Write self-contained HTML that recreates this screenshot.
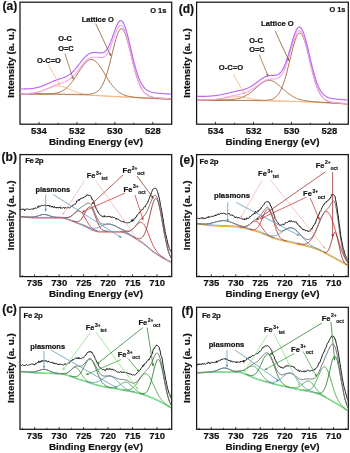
<!DOCTYPE html>
<html><head><meta charset="utf-8"><style>
html,body{margin:0;padding:0;background:#fff;}
body{width:350px;height:453px;overflow:hidden;}
svg{display:block;font-family:"Liberation Sans", sans-serif;font-weight:bold;-webkit-font-smoothing:antialiased;filter:blur(0.42px);}
</style></head><body>
<svg width="350" height="453" viewBox="0 0 350 453">
<rect width="350" height="453" fill="#fff"/>
<rect x="20.00" y="2.20" width="151.70" height="122.00" fill="none" stroke="#151515" stroke-width="1.25"/>
<line x1="38.96" y1="124.20" x2="38.96" y2="121.90" stroke="#222" stroke-width="0.9" stroke-opacity="1.0"/>
<line x1="76.89" y1="124.20" x2="76.89" y2="121.90" stroke="#222" stroke-width="0.9" stroke-opacity="1.0"/>
<line x1="114.81" y1="124.20" x2="114.81" y2="121.90" stroke="#222" stroke-width="0.9" stroke-opacity="1.0"/>
<line x1="152.74" y1="124.20" x2="152.74" y2="121.90" stroke="#222" stroke-width="0.9" stroke-opacity="1.0"/>
<line x1="57.92" y1="124.20" x2="57.92" y2="122.70" stroke="#222" stroke-width="0.8" stroke-opacity="1.0"/>
<line x1="95.85" y1="124.20" x2="95.85" y2="122.70" stroke="#222" stroke-width="0.8" stroke-opacity="1.0"/>
<line x1="133.77" y1="124.20" x2="133.77" y2="122.70" stroke="#222" stroke-width="0.8" stroke-opacity="1.0"/>
<text x="31.03" y="133.65" font-size="9.5" fill="#111" stroke="#111" stroke-width="0.2">534</text>
<text x="69.11" y="133.65" font-size="9.5" fill="#111" stroke="#111" stroke-width="0.2">532</text>
<text x="107.04" y="133.65" font-size="9.5" fill="#111" stroke="#111" stroke-width="0.2">530</text>
<text x="144.91" y="133.65" font-size="9.5" fill="#111" stroke="#111" stroke-width="0.2">528</text>
<text x="48.90" y="144.70" font-size="9.85" fill="#111" stroke="#111" stroke-width="0.2">Binding Energy (eV)</text>
<text x="0" y="0" font-size="9.9" text-anchor="middle" fill="#111" stroke="#111" stroke-width="0.2" transform="translate(13.60,63.00) rotate(-90)">Intensity (a. u.)</text>
<clipPath id="c00"><rect x="20.60" y="2.80" width="150.50" height="120.80"/></clipPath>
<g clip-path="url(#c00)">
<polyline points="20.0,93.9 20.8,93.9 21.7,93.9 22.5,93.9 23.4,93.9 24.2,93.9 25.1,93.9 25.9,93.9 26.8,93.9 27.6,93.9 28.5,94.0 29.3,94.0 30.2,94.0 31.0,94.0 31.9,94.0 32.7,94.0 33.6,94.0 34.4,94.0 35.3,94.0 36.1,94.0 36.9,94.0 37.8,94.1 38.6,94.1 39.5,94.1 40.3,94.1 41.2,94.1 42.0,94.1 42.9,94.1 43.7,94.1 44.6,94.1 45.4,94.2 46.3,94.2 47.1,94.2 48.0,94.2 48.8,94.2 49.7,94.2 50.5,94.2 51.4,94.3 52.2,94.3 53.1,94.3 53.9,94.3 54.7,94.3 55.6,94.3 56.4,94.3 57.3,94.4 58.1,94.4 59.0,94.4 59.8,94.4 60.7,94.4 61.5,94.5 62.4,94.5 63.2,94.5 64.1,94.5 64.9,94.5 65.8,94.6 66.6,94.6 67.5,94.6 68.3,94.6 69.2,94.6 70.0,94.7 70.8,94.7 71.7,94.7 72.5,94.7 73.4,94.8 74.2,94.8 75.1,94.8 75.9,94.8 76.8,94.9 77.6,94.9 78.5,94.9 79.3,94.9 80.2,95.0 81.0,95.0 81.9,95.0 82.7,95.1 83.6,95.1 84.4,95.1 85.3,95.1 86.1,95.2 87.0,95.2 87.8,95.2 88.6,95.3 89.5,95.3 90.3,95.3 91.2,95.4 92.0,95.4 92.9,95.4 93.7,95.5 94.6,95.5 95.4,95.5 96.3,95.6 97.1,95.6 98.0,95.7 98.8,95.7 99.7,95.7 100.5,95.8 101.4,95.8 102.2,95.8 103.1,95.9 103.9,95.9 104.7,96.0 105.6,96.0 106.4,96.1 107.3,96.1 108.1,96.1 109.0,96.2 109.8,96.2 110.7,96.3 111.5,96.3 112.4,96.3 113.2,96.4 114.1,96.4 114.9,96.5 115.8,96.5 116.6,96.6 117.5,96.6 118.3,96.7 119.2,96.7 120.0,96.7 120.9,96.8 121.7,96.8 122.5,96.9 123.4,96.9 124.2,97.0 125.1,97.0 125.9,97.1 126.8,97.1 127.6,97.2 128.5,97.2 129.3,97.2 130.2,97.3 131.0,97.3 131.9,97.4 132.7,97.4 133.6,97.5 134.4,97.5 135.3,97.6 136.1,97.6 137.0,97.7 137.8,97.7 138.6,97.7 139.5,97.8 140.3,97.8 141.2,97.9 142.0,97.9 142.9,98.0 143.7,98.0 144.6,98.1 145.4,98.1 146.3,98.1 147.1,98.2 148.0,98.2 148.8,98.3 149.7,98.3 150.5,98.3 151.4,98.4 152.2,98.4 153.1,98.5 153.9,98.5 154.8,98.5 155.6,98.6 156.4,98.6 157.3,98.7 158.1,98.7 159.0,98.7 159.8,98.8 160.7,98.8 161.5,98.8 162.4,98.9 163.2,98.9 164.1,98.9 164.9,99.0 165.8,99.0 166.6,99.1 167.5,99.1 168.3,99.1 169.2,99.1 170.0,99.2 170.9,99.2 171.7,99.2" fill="none" stroke="#f5b47a" stroke-width="0.9" stroke-opacity="1.0" stroke-linejoin="round"/>
<polyline points="20.0,93.8 20.8,93.8 21.7,93.8 22.5,93.8 23.4,93.8 24.2,93.8 25.1,93.8 25.9,93.8 26.8,93.7 27.6,93.7 28.5,93.6 29.3,93.6 30.2,93.5 31.0,93.4 31.9,93.4 32.7,93.3 33.6,93.1 34.4,93.0 35.3,92.9 36.1,92.7 36.9,92.5 37.8,92.3 38.6,92.1 39.5,91.9 40.3,91.6 41.2,91.3 42.0,91.1 42.9,90.7 43.7,90.4 44.6,90.1 45.4,89.8 46.3,89.4 47.1,89.1 48.0,88.7 48.8,88.4 49.7,88.1 50.5,87.8 51.4,87.5 52.2,87.2 53.1,86.9 53.9,86.7 54.7,86.5 55.6,86.4 56.4,86.2 57.3,86.2 58.1,86.1 59.0,86.1 59.8,86.2 60.7,86.3 61.5,86.4 62.4,86.6 63.2,86.8 64.1,87.0 64.9,87.3 65.8,87.6 66.6,87.9 67.5,88.3 68.3,88.6 69.2,89.0 70.0,89.4 70.8,89.7 71.7,90.1 72.5,90.5 73.4,90.9 74.2,91.2 75.1,91.6 75.9,91.9 76.8,92.2 77.6,92.5 78.5,92.8 79.3,93.1 80.2,93.3 81.0,93.5 81.9,93.8 82.7,94.0 83.6,94.1 84.4,94.3 85.3,94.4 86.1,94.6 87.0,94.7 87.8,94.8 88.6,94.9 89.5,95.0 90.3,95.1 91.2,95.2 92.0,95.2 92.9,95.3 93.7,95.4 94.6,95.4 95.4,95.5 96.3,95.5 97.1,95.6 98.0,95.6 98.8,95.7 99.7,95.7 100.5,95.8 101.4,95.8 102.2,95.8 103.1,95.9 103.9,95.9 104.7,96.0 105.6,96.0 106.4,96.0 107.3,96.1 108.1,96.1 109.0,96.2 109.8,96.2 110.7,96.3 111.5,96.3 112.4,96.3 113.2,96.4 114.1,96.4 114.9,96.5 115.8,96.5 116.6,96.6 117.5,96.6 118.3,96.7 119.2,96.7 120.0,96.7 120.9,96.8 121.7,96.8 122.5,96.9 123.4,96.9 124.2,97.0 125.1,97.0 125.9,97.1 126.8,97.1 127.6,97.2 128.5,97.2 129.3,97.2 130.2,97.3 131.0,97.3 131.9,97.4 132.7,97.4 133.6,97.5 134.4,97.5 135.3,97.6 136.1,97.6 137.0,97.7 137.8,97.7 138.6,97.7 139.5,97.8 140.3,97.8 141.2,97.9 142.0,97.9 142.9,98.0 143.7,98.0 144.6,98.1 145.4,98.1 146.3,98.1 147.1,98.2 148.0,98.2 148.8,98.3 149.7,98.3 150.5,98.3 151.4,98.4 152.2,98.4 153.1,98.5 153.9,98.5 154.8,98.5 155.6,98.6 156.4,98.6 157.3,98.7 158.1,98.7 159.0,98.7 159.8,98.8 160.7,98.8 161.5,98.8 162.4,98.9 163.2,98.9 164.1,98.9 164.9,99.0 165.8,99.0 166.6,99.1 167.5,99.1 168.3,99.1 169.2,99.1 170.0,99.2 170.9,99.2 171.7,99.2" fill="none" stroke="#f5b47a" stroke-width="0.9" stroke-opacity="1.0" stroke-linejoin="round"/>
<polyline points="20.0,93.8 20.8,93.8 21.7,93.8 22.5,93.9 23.4,93.9 24.2,93.9 25.1,93.9 25.9,93.9 26.8,93.9 27.6,93.9 28.5,93.9 29.3,93.9 30.2,93.9 31.0,93.9 31.9,93.9 32.7,93.9 33.6,93.9 34.4,93.9 35.3,93.9 36.1,94.0 36.9,94.0 37.8,94.0 38.6,94.0 39.5,94.0 40.3,94.0 41.2,94.0 42.0,94.0 42.9,94.0 43.7,94.0 44.6,94.0 45.4,94.0 46.3,93.9 47.1,93.9 48.0,93.9 48.8,93.9 49.7,93.8 50.5,93.8 51.4,93.7 52.2,93.6 53.1,93.6 53.9,93.4 54.7,93.3 55.6,93.2 56.4,93.0 57.3,92.8 58.1,92.6 59.0,92.3 59.8,92.0 60.7,91.7 61.5,91.3 62.4,90.9 63.2,90.4 64.1,89.9 64.9,89.3 65.8,88.7 66.6,88.0 67.5,87.2 68.3,86.4 69.2,85.5 70.0,84.6 70.8,83.6 71.7,82.5 72.5,81.4 73.4,80.2 74.2,79.0 75.1,77.7 75.9,76.4 76.8,75.1 77.6,73.8 78.5,72.4 79.3,71.1 80.2,69.8 81.0,68.5 81.9,67.3 82.7,66.1 83.6,64.9 84.4,63.9 85.3,62.9 86.1,62.1 87.0,61.3 87.8,60.7 88.6,60.2 89.5,59.8 90.3,59.6 91.2,59.5 92.0,59.5 92.9,59.7 93.7,60.1 94.6,60.6 95.4,61.2 96.3,61.9 97.1,62.8 98.0,63.8 98.8,64.8 99.7,66.0 100.5,67.2 101.4,68.5 102.2,69.8 103.1,71.2 103.9,72.6 104.7,74.0 105.6,75.4 106.4,76.8 107.3,78.1 108.1,79.5 109.0,80.8 109.8,82.1 110.7,83.3 111.5,84.5 112.4,85.6 113.2,86.6 114.1,87.6 114.9,88.5 115.8,89.4 116.6,90.2 117.5,91.0 118.3,91.6 119.2,92.3 120.0,92.8 120.9,93.4 121.7,93.8 122.5,94.3 123.4,94.7 124.2,95.0 125.1,95.3 125.9,95.6 126.8,95.8 127.6,96.1 128.5,96.3 129.3,96.4 130.2,96.6 131.0,96.7 131.9,96.9 132.7,97.0 133.6,97.1 134.4,97.2 135.3,97.3 136.1,97.4 137.0,97.4 137.8,97.5 138.6,97.6 139.5,97.6 140.3,97.7 141.2,97.8 142.0,97.8 142.9,97.9 143.7,97.9 144.6,98.0 145.4,98.0 146.3,98.1 147.1,98.1 148.0,98.1 148.8,98.2 149.7,98.2 150.5,98.3 151.4,98.3 152.2,98.4 153.1,98.4 153.9,98.4 154.8,98.5 155.6,98.5 156.4,98.6 157.3,98.6 158.1,98.6 159.0,98.7 159.8,98.7 160.7,98.8 161.5,98.8 162.4,98.8 163.2,98.9 164.1,98.9 164.9,98.9 165.8,99.0 166.6,99.0 167.5,99.0 168.3,99.1 169.2,99.1 170.0,99.1 170.9,99.2 171.7,99.2" fill="none" stroke="#a36c40" stroke-width="0.95" stroke-opacity="1.0" stroke-linejoin="round"/>
<polyline points="20.0,93.8 20.8,93.8 21.7,93.8 22.5,93.8 23.4,93.8 24.2,93.8 25.1,93.8 25.9,93.8 26.8,93.8 27.6,93.8 28.5,93.8 29.3,93.8 30.2,93.9 31.0,93.9 31.9,93.9 32.7,93.9 33.6,93.9 34.4,93.9 35.3,93.9 36.1,93.9 36.9,93.9 37.8,93.9 38.6,93.9 39.5,93.9 40.3,93.9 41.2,93.9 42.0,94.0 42.9,94.0 43.7,94.0 44.6,94.0 45.4,94.0 46.3,94.0 47.1,94.0 48.0,94.0 48.8,94.0 49.7,94.0 50.5,94.0 51.4,94.1 52.2,94.1 53.1,94.1 53.9,94.1 54.7,94.1 55.6,94.1 56.4,94.1 57.3,94.1 58.1,94.1 59.0,94.2 59.8,94.2 60.7,94.2 61.5,94.2 62.4,94.2 63.2,94.2 64.1,94.2 64.9,94.2 65.8,94.3 66.6,94.3 67.5,94.3 68.3,94.3 69.2,94.3 70.0,94.3 70.8,94.3 71.7,94.3 72.5,94.3 73.4,94.4 74.2,94.4 75.1,94.4 75.9,94.4 76.8,94.4 77.6,94.4 78.5,94.4 79.3,94.4 80.2,94.4 81.0,94.4 81.9,94.4 82.7,94.4 83.6,94.4 84.4,94.4 85.3,94.4 86.1,94.4 87.0,94.4 87.8,94.3 88.6,94.3 89.5,94.2 90.3,94.1 91.2,94.0 92.0,93.8 92.9,93.6 93.7,93.4 94.6,93.0 95.4,92.7 96.3,92.2 97.1,91.6 98.0,91.0 98.8,90.2 99.7,89.2 100.5,88.2 101.4,86.9 102.2,85.4 103.1,83.8 103.9,81.9 104.7,79.9 105.6,77.6 106.4,75.1 107.3,72.3 108.1,69.4 109.0,66.3 109.8,63.1 110.7,59.7 111.5,56.3 112.4,52.8 113.2,49.3 114.1,46.0 114.9,42.7 115.8,39.6 116.6,36.9 117.5,34.4 118.3,32.3 119.2,30.6 120.0,29.4 120.9,28.8 121.7,28.7 122.5,29.1 123.4,30.0 124.2,31.4 125.1,33.3 125.9,35.7 126.8,38.4 127.6,41.3 128.5,44.6 129.3,48.0 130.2,51.5 131.0,55.0 131.9,58.6 132.7,62.1 133.6,65.5 134.4,68.8 135.3,71.9 136.1,74.8 137.0,77.6 137.8,80.1 138.6,82.4 139.5,84.5 140.3,86.3 141.2,88.0 142.0,89.5 142.9,90.8 143.7,91.9 144.6,92.8 145.4,93.7 146.3,94.4 147.1,95.0 148.0,95.5 148.8,95.9 149.7,96.3 150.5,96.6 151.4,96.9 152.2,97.1 153.1,97.3 153.9,97.4 154.8,97.6 155.6,97.7 156.4,97.8 157.3,97.9 158.1,98.0 159.0,98.1 159.8,98.1 160.7,98.2 161.5,98.3 162.4,98.3 163.2,98.4 164.1,98.4 164.9,98.5 165.8,98.5 166.6,98.6 167.5,98.6 168.3,98.7 169.2,98.7 170.0,98.8 170.9,98.8 171.7,98.9" fill="none" stroke="#a36c40" stroke-width="0.95" stroke-opacity="1.0" stroke-linejoin="round"/>
<polyline points="20.0,93.7 20.8,93.7 21.7,93.7 22.5,93.7 23.4,93.7 24.2,93.6 25.1,93.6 25.9,93.6 26.8,93.6 27.6,93.5 28.5,93.5 29.3,93.4 30.2,93.3 31.0,93.3 31.9,93.2 32.7,93.1 33.6,92.9 34.4,92.8 35.3,92.7 36.1,92.5 36.9,92.3 37.8,92.1 38.6,91.9 39.5,91.6 40.3,91.4 41.2,91.1 42.0,90.8 42.9,90.4 43.7,90.1 44.6,89.8 45.4,89.4 46.3,89.0 47.1,88.6 48.0,88.3 48.8,87.9 49.7,87.5 50.5,87.1 51.4,86.7 52.2,86.4 53.1,86.0 53.9,85.7 54.7,85.3 55.6,85.0 56.4,84.7 57.3,84.4 58.1,84.1 59.0,83.8 59.8,83.6 60.7,83.3 61.5,83.0 62.4,82.7 63.2,82.4 64.1,82.1 64.9,81.8 65.8,81.4 66.6,81.0 67.5,80.6 68.3,80.1 69.2,79.5 70.0,78.9 70.8,78.2 71.7,77.5 72.5,76.7 73.4,75.9 74.2,75.0 75.1,74.1 75.9,73.1 76.8,72.0 77.6,70.9 78.5,69.8 79.3,68.7 80.2,67.6 81.0,66.5 81.9,65.4 82.7,64.3 83.6,63.3 84.4,62.4 85.3,61.5 86.1,60.7 87.0,59.9 87.8,59.3 88.6,58.7 89.5,58.3 90.3,57.9 91.2,57.6 92.0,57.4 92.9,57.3 93.7,57.2 94.6,57.2 95.4,57.2 96.3,57.2 97.1,57.3 98.0,57.3 98.8,57.4 99.7,57.5 100.5,57.5 101.4,57.6 102.2,57.5 103.1,57.4 103.9,57.0 104.7,56.6 105.6,55.9 106.4,54.9 107.3,53.7 108.1,52.3 109.0,50.6 109.8,48.7 110.7,46.6 111.5,44.3 112.4,42.0 113.2,39.5 114.1,37.1 114.9,34.8 115.8,32.5 116.6,30.5 117.5,28.7 118.3,27.3 119.2,26.2 120.0,25.5 120.9,25.4 121.7,25.7 122.5,26.4 123.4,27.7 124.2,29.5 125.1,31.6 125.9,34.2 126.8,37.1 127.6,40.2 128.5,43.6 129.3,47.2 130.2,50.8 131.0,54.4 131.9,58.1 132.7,61.7 133.6,65.1 134.4,68.5 135.3,71.6 136.1,74.6 137.0,77.4 137.8,79.9 138.6,82.2 139.5,84.3 140.3,86.2 141.2,87.9 142.0,89.4 142.9,90.7 143.7,91.8 144.6,92.8 145.4,93.6 146.3,94.3 147.1,94.9 148.0,95.4 148.8,95.9 149.7,96.2 150.5,96.5 151.4,96.8 152.2,97.0 153.1,97.2 153.9,97.4 154.8,97.5 155.6,97.6 156.4,97.7 157.3,97.8 158.1,97.9 159.0,98.0 159.8,98.1 160.7,98.2 161.5,98.2 162.4,98.3 163.2,98.3 164.1,98.4 164.9,98.4 165.8,98.5 166.6,98.6 167.5,98.6 168.3,98.7 169.2,98.7 170.0,98.7 170.9,98.8 171.7,98.8" fill="none" stroke="#f6a2f2" stroke-width="1.1" stroke-opacity="1.0" stroke-linejoin="round"/>
<polyline points="20.0,89.0 20.8,89.0 21.7,89.0 22.5,89.0 23.4,89.0 24.2,88.9 25.1,88.9 25.9,88.9 26.8,88.8 27.6,88.8 28.5,88.8 29.3,88.7 30.2,88.6 31.0,88.5 31.9,88.5 32.7,88.4 33.6,88.2 34.4,88.1 35.3,87.9 36.1,87.8 36.9,87.6 37.8,87.4 38.6,87.2 39.5,86.9 40.3,86.6 41.2,86.4 42.0,86.1 42.9,85.7 43.7,85.4 44.6,85.1 45.4,84.7 46.3,84.3 47.1,83.9 48.0,83.6 48.8,83.2 49.7,82.8 50.5,82.4 51.4,82.0 52.2,81.7 53.1,81.3 53.9,80.9 54.7,80.6 55.6,80.3 56.4,80.0 57.3,79.7 58.1,79.4 59.0,79.1 59.8,78.8 60.7,78.6 61.5,78.3 62.4,78.0 63.2,77.7 64.1,77.4 64.9,77.1 65.8,76.7 66.6,76.3 67.5,75.8 68.3,75.4 69.2,74.8 70.0,74.2 70.8,73.5 71.7,72.8 72.5,72.0 73.4,71.2 74.2,70.3 75.1,69.3 75.9,68.3 76.8,67.3 77.6,66.2 78.5,65.1 79.3,64.0 80.2,62.9 81.0,61.8 81.9,60.7 82.7,59.6 83.6,58.6 84.4,57.7 85.3,56.8 86.1,56.0 87.0,55.2 87.8,54.6 88.6,54.0 89.5,53.6 90.3,53.2 91.2,52.9 92.0,52.7 92.9,52.6 93.7,52.5 94.6,52.5 95.4,52.5 96.3,52.5 97.1,52.6 98.0,52.6 98.8,52.7 99.7,52.8 100.5,52.8 101.4,52.9 102.2,52.8 103.1,52.6 103.9,52.3 104.7,51.8 105.6,51.2 106.4,50.2 107.3,49.0 108.1,47.6 109.0,45.9 109.8,44.0 110.7,41.9 111.5,39.6 112.4,37.3 113.2,34.8 114.1,32.4 114.9,30.1 115.8,27.8 116.6,25.8 117.5,24.0 118.3,22.6 119.2,21.5 120.0,20.8 120.9,20.6 121.7,20.9 122.5,21.7 123.4,23.0 124.2,24.8 125.1,26.9 125.9,29.5 126.8,32.4 127.6,35.5 128.5,38.9 129.3,42.4 130.2,46.1 131.0,49.7 131.9,53.4 132.7,56.9 133.6,60.4 134.4,63.8 135.3,66.9 136.1,69.9 137.0,72.6 137.8,75.2 138.6,77.5 139.5,79.6 140.3,81.5 141.2,83.2 142.0,84.7 142.9,85.9 143.7,87.1 144.6,88.0 145.4,88.9 146.3,89.6 147.1,90.2 148.0,90.7 148.8,91.1 149.7,91.5 150.5,91.8 151.4,92.1 152.2,92.3 153.1,92.5 153.9,92.7 154.8,92.8 155.6,92.9 156.4,93.0 157.3,93.1 158.1,93.2 159.0,93.3 159.8,93.4 160.7,93.4 161.5,93.5 162.4,93.6 163.2,93.6 164.1,93.7 164.9,93.7 165.8,93.8 166.6,93.8 167.5,93.9 168.3,93.9 169.2,94.0 170.0,94.0 170.9,94.1 171.7,94.1" fill="none" stroke="#b868ee" stroke-width="1.15" stroke-opacity="1.0" stroke-linejoin="round"/>
</g>
<line x1="95.70" y1="23.50" x2="109.91" y2="53.86" stroke="#8a5a30" stroke-width="0.8" stroke-opacity="1.0"/>
<polygon points="111.10,56.40 108.61,53.92 110.80,52.90" fill="#8a5a30" fill-opacity="1.0"/>
<line x1="64.90" y1="53.40" x2="72.64" y2="77.34" stroke="#a06a3a" stroke-width="0.8" stroke-opacity="1.0"/>
<polygon points="73.50,80.00 71.33,77.23 73.64,76.49" fill="#a06a3a" fill-opacity="1.0"/>
<line x1="48.30" y1="64.60" x2="58.92" y2="83.36" stroke="#f5b47a" stroke-width="0.8" stroke-opacity="1.0"/>
<polygon points="60.30,85.80 57.62,83.52 59.73,82.33" fill="#f5b47a" fill-opacity="1.0"/>
<text x="2.50" y="10.10" font-size="12.00" fill="#111" stroke="#111" stroke-width="0.2">(a)</text>
<text x="150.20" y="13.30" font-size="7.42" fill="#111" stroke="#111" stroke-width="0.2">O 1s</text>
<text x="81.70" y="21.80" font-size="7.55" fill="#111" stroke="#111" stroke-width="0.2">Lattice O</text>
<text x="58.20" y="41.40" font-size="7.40" fill="#111" stroke="#111" stroke-width="0.2">O-C</text>
<text x="58.20" y="50.95" font-size="7.40" fill="#111" stroke="#111" stroke-width="0.2">O=C</text>
<text x="37.00" y="62.57" font-size="7.48" fill="#111" stroke="#111" stroke-width="0.2">O-C=O</text>
<rect x="196.60" y="2.20" width="151.70" height="122.00" fill="none" stroke="#151515" stroke-width="1.25"/>
<line x1="215.56" y1="124.20" x2="215.56" y2="121.90" stroke="#222" stroke-width="0.9" stroke-opacity="1.0"/>
<line x1="253.49" y1="124.20" x2="253.49" y2="121.90" stroke="#222" stroke-width="0.9" stroke-opacity="1.0"/>
<line x1="291.41" y1="124.20" x2="291.41" y2="121.90" stroke="#222" stroke-width="0.9" stroke-opacity="1.0"/>
<line x1="329.34" y1="124.20" x2="329.34" y2="121.90" stroke="#222" stroke-width="0.9" stroke-opacity="1.0"/>
<line x1="234.52" y1="124.20" x2="234.52" y2="122.70" stroke="#222" stroke-width="0.8" stroke-opacity="1.0"/>
<line x1="272.45" y1="124.20" x2="272.45" y2="122.70" stroke="#222" stroke-width="0.8" stroke-opacity="1.0"/>
<line x1="310.38" y1="124.20" x2="310.38" y2="122.70" stroke="#222" stroke-width="0.8" stroke-opacity="1.0"/>
<text x="207.63" y="133.65" font-size="9.5" fill="#111" stroke="#111" stroke-width="0.2">534</text>
<text x="245.71" y="133.65" font-size="9.5" fill="#111" stroke="#111" stroke-width="0.2">532</text>
<text x="283.64" y="133.65" font-size="9.5" fill="#111" stroke="#111" stroke-width="0.2">530</text>
<text x="321.51" y="133.65" font-size="9.5" fill="#111" stroke="#111" stroke-width="0.2">528</text>
<text x="225.50" y="144.70" font-size="9.85" fill="#111" stroke="#111" stroke-width="0.2">Binding Energy (eV)</text>
<text x="0" y="0" font-size="9.9" text-anchor="middle" fill="#111" stroke="#111" stroke-width="0.2" transform="translate(190.20,63.00) rotate(-90)">Intensity (a. u.)</text>
<clipPath id="c10"><rect x="197.20" y="2.80" width="150.50" height="120.80"/></clipPath>
<g clip-path="url(#c10)">
<polyline points="196.6,100.3 197.4,100.3 198.3,100.3 199.1,100.3 200.0,100.3 200.8,100.3 201.7,100.3 202.5,100.4 203.4,100.4 204.2,100.4 205.1,100.4 205.9,100.4 206.8,100.4 207.6,100.4 208.5,100.4 209.3,100.4 210.2,100.4 211.0,100.4 211.9,100.4 212.7,100.4 213.5,100.4 214.4,100.4 215.2,100.4 216.1,100.4 216.9,100.4 217.8,100.4 218.6,100.4 219.5,100.4 220.3,100.4 221.2,100.4 222.0,100.4 222.9,100.4 223.7,100.4 224.6,100.4 225.4,100.4 226.3,100.4 227.1,100.4 228.0,100.4 228.8,100.4 229.7,100.5 230.5,100.5 231.3,100.5 232.2,100.5 233.0,100.5 233.9,100.5 234.7,100.5 235.6,100.5 236.4,100.5 237.3,100.5 238.1,100.5 239.0,100.5 239.8,100.5 240.7,100.5 241.5,100.5 242.4,100.5 243.2,100.5 244.1,100.5 244.9,100.6 245.8,100.6 246.6,100.6 247.4,100.6 248.3,100.6 249.1,100.6 250.0,100.6 250.8,100.6 251.7,100.6 252.5,100.6 253.4,100.6 254.2,100.6 255.1,100.7 255.9,100.7 256.8,100.7 257.6,100.7 258.5,100.7 259.3,100.7 260.2,100.7 261.0,100.7 261.9,100.7 262.7,100.8 263.6,100.8 264.4,100.8 265.2,100.8 266.1,100.8 266.9,100.8 267.8,100.8 268.6,100.8 269.5,100.9 270.3,100.9 271.2,100.9 272.0,100.9 272.9,100.9 273.7,100.9 274.6,101.0 275.4,101.0 276.3,101.0 277.1,101.0 278.0,101.0 278.8,101.0 279.7,101.1 280.5,101.1 281.3,101.1 282.2,101.1 283.0,101.1 283.9,101.2 284.7,101.2 285.6,101.2 286.4,101.2 287.3,101.2 288.1,101.3 289.0,101.3 289.8,101.3 290.7,101.3 291.5,101.4 292.4,101.4 293.2,101.4 294.1,101.4 294.9,101.5 295.8,101.5 296.6,101.5 297.5,101.6 298.3,101.6 299.1,101.6 300.0,101.6 300.8,101.7 301.7,101.7 302.5,101.7 303.4,101.8 304.2,101.8 305.1,101.8 305.9,101.9 306.8,101.9 307.6,101.9 308.5,102.0 309.3,102.0 310.2,102.0 311.0,102.1 311.9,102.1 312.7,102.2 313.6,102.2 314.4,102.2 315.2,102.3 316.1,102.3 316.9,102.4 317.8,102.4 318.6,102.4 319.5,102.5 320.3,102.5 321.2,102.6 322.0,102.6 322.9,102.6 323.7,102.7 324.6,102.7 325.4,102.8 326.3,102.8 327.1,102.9 328.0,102.9 328.8,103.0 329.7,103.0 330.5,103.1 331.4,103.1 332.2,103.2 333.0,103.2 333.9,103.2 334.7,103.3 335.6,103.3 336.4,103.4 337.3,103.4 338.1,103.5 339.0,103.5 339.8,103.6 340.7,103.6 341.5,103.7 342.4,103.7 343.2,103.8 344.1,103.8 344.9,103.9 345.8,103.9 346.6,104.0 347.5,104.0 348.3,104.1" fill="none" stroke="#f5b47a" stroke-width="0.9" stroke-opacity="1.0" stroke-linejoin="round"/>
<polyline points="196.6,100.3 197.4,100.3 198.3,100.3 199.1,100.3 200.0,100.3 200.8,100.3 201.7,100.3 202.5,100.3 203.4,100.3 204.2,100.3 205.1,100.3 205.9,100.2 206.8,100.2 207.6,100.2 208.5,100.2 209.3,100.1 210.2,100.1 211.0,100.0 211.9,100.0 212.7,99.9 213.5,99.8 214.4,99.8 215.2,99.7 216.1,99.6 216.9,99.5 217.8,99.4 218.6,99.3 219.5,99.1 220.3,99.0 221.2,98.8 222.0,98.7 222.9,98.5 223.7,98.4 224.6,98.2 225.4,98.1 226.3,97.9 227.1,97.8 228.0,97.6 228.8,97.5 229.7,97.3 230.5,97.2 231.3,97.1 232.2,97.0 233.0,96.9 233.9,96.8 234.7,96.7 235.6,96.7 236.4,96.7 237.3,96.7 238.1,96.7 239.0,96.7 239.8,96.8 240.7,96.9 241.5,96.9 242.4,97.1 243.2,97.2 244.1,97.3 244.9,97.5 245.8,97.6 246.6,97.8 247.4,97.9 248.3,98.1 249.1,98.3 250.0,98.4 250.8,98.6 251.7,98.8 252.5,99.0 253.4,99.1 254.2,99.3 255.1,99.4 255.9,99.5 256.8,99.7 257.6,99.8 258.5,99.9 259.3,100.0 260.2,100.1 261.0,100.2 261.9,100.3 262.7,100.4 263.6,100.4 264.4,100.5 265.2,100.5 266.1,100.6 266.9,100.6 267.8,100.7 268.6,100.7 269.5,100.8 270.3,100.8 271.2,100.8 272.0,100.9 272.9,100.9 273.7,100.9 274.6,100.9 275.4,100.9 276.3,101.0 277.1,101.0 278.0,101.0 278.8,101.0 279.7,101.1 280.5,101.1 281.3,101.1 282.2,101.1 283.0,101.1 283.9,101.2 284.7,101.2 285.6,101.2 286.4,101.2 287.3,101.2 288.1,101.3 289.0,101.3 289.8,101.3 290.7,101.3 291.5,101.4 292.4,101.4 293.2,101.4 294.1,101.4 294.9,101.5 295.8,101.5 296.6,101.5 297.5,101.6 298.3,101.6 299.1,101.6 300.0,101.6 300.8,101.7 301.7,101.7 302.5,101.7 303.4,101.8 304.2,101.8 305.1,101.8 305.9,101.9 306.8,101.9 307.6,101.9 308.5,102.0 309.3,102.0 310.2,102.0 311.0,102.1 311.9,102.1 312.7,102.2 313.6,102.2 314.4,102.2 315.2,102.3 316.1,102.3 316.9,102.4 317.8,102.4 318.6,102.4 319.5,102.5 320.3,102.5 321.2,102.6 322.0,102.6 322.9,102.6 323.7,102.7 324.6,102.7 325.4,102.8 326.3,102.8 327.1,102.9 328.0,102.9 328.8,103.0 329.7,103.0 330.5,103.1 331.4,103.1 332.2,103.2 333.0,103.2 333.9,103.2 334.7,103.3 335.6,103.3 336.4,103.4 337.3,103.4 338.1,103.5 339.0,103.5 339.8,103.6 340.7,103.6 341.5,103.7 342.4,103.7 343.2,103.8 344.1,103.8 344.9,103.9 345.8,103.9 346.6,104.0 347.5,104.0 348.3,104.1" fill="none" stroke="#f5b47a" stroke-width="0.9" stroke-opacity="1.0" stroke-linejoin="round"/>
<polyline points="196.6,100.2 197.4,100.1 198.3,100.1 199.1,100.1 200.0,100.1 200.8,100.1 201.7,100.1 202.5,100.1 203.4,100.1 204.2,100.1 205.1,100.1 205.9,100.1 206.8,100.1 207.6,100.1 208.5,100.1 209.3,100.1 210.2,100.1 211.0,100.1 211.9,100.1 212.7,100.1 213.5,100.1 214.4,100.1 215.2,100.1 216.1,100.0 216.9,100.0 217.8,100.0 218.6,100.0 219.5,100.0 220.3,100.0 221.2,100.0 222.0,100.0 222.9,99.9 223.7,99.9 224.6,99.9 225.4,99.9 226.3,99.8 227.1,99.8 228.0,99.8 228.8,99.7 229.7,99.6 230.5,99.6 231.3,99.5 232.2,99.4 233.0,99.3 233.9,99.2 234.7,99.1 235.6,99.0 236.4,98.8 237.3,98.7 238.1,98.5 239.0,98.3 239.8,98.0 240.7,97.8 241.5,97.5 242.4,97.2 243.2,96.8 244.1,96.4 244.9,96.0 245.8,95.6 246.6,95.1 247.4,94.6 248.3,94.1 249.1,93.5 250.0,92.9 250.8,92.3 251.7,91.7 252.5,91.0 253.4,90.3 254.2,89.6 255.1,88.8 255.9,88.1 256.8,87.4 257.6,86.6 258.5,85.9 259.3,85.2 260.2,84.5 261.0,83.8 261.9,83.2 262.7,82.6 263.6,82.1 264.4,81.6 265.2,81.2 266.1,80.9 266.9,80.6 267.8,80.4 268.6,80.3 269.5,80.3 270.3,80.4 271.2,80.6 272.0,80.8 272.9,81.1 273.7,81.5 274.6,82.0 275.4,82.6 276.3,83.1 277.1,83.8 278.0,84.5 278.8,85.2 279.7,85.9 280.5,86.7 281.3,87.4 282.2,88.2 283.0,89.0 283.9,89.7 284.7,90.5 285.6,91.2 286.4,91.9 287.3,92.6 288.1,93.3 289.0,93.9 289.8,94.5 290.7,95.1 291.5,95.7 292.4,96.2 293.2,96.7 294.1,97.1 294.9,97.6 295.8,98.0 296.6,98.3 297.5,98.7 298.3,99.0 299.1,99.2 300.0,99.5 300.8,99.7 301.7,100.0 302.5,100.2 303.4,100.3 304.2,100.5 305.1,100.7 305.9,100.8 306.8,100.9 307.6,101.0 308.5,101.1 309.3,101.2 310.2,101.3 311.0,101.4 311.9,101.5 312.7,101.6 313.6,101.6 314.4,101.7 315.2,101.8 316.1,101.8 316.9,101.9 317.8,102.0 318.6,102.0 319.5,102.1 320.3,102.1 321.2,102.2 322.0,102.3 322.9,102.3 323.7,102.4 324.6,102.4 325.4,102.5 326.3,102.5 327.1,102.6 328.0,102.6 328.8,102.7 329.7,102.7 330.5,102.8 331.4,102.9 332.2,102.9 333.0,103.0 333.9,103.0 334.7,103.1 335.6,103.1 336.4,103.2 337.3,103.2 338.1,103.3 339.0,103.3 339.8,103.4 340.7,103.4 341.5,103.5 342.4,103.6 343.2,103.6 344.1,103.7 344.9,103.7 345.8,103.8 346.6,103.8 347.5,103.9 348.3,103.9" fill="none" stroke="#a36c40" stroke-width="0.95" stroke-opacity="1.0" stroke-linejoin="round"/>
<polyline points="196.6,100.3 197.4,100.3 198.3,100.3 199.1,100.3 200.0,100.3 200.8,100.3 201.7,100.3 202.5,100.3 203.4,100.3 204.2,100.3 205.1,100.3 205.9,100.3 206.8,100.3 207.6,100.3 208.5,100.3 209.3,100.3 210.2,100.3 211.0,100.3 211.9,100.3 212.7,100.3 213.5,100.3 214.4,100.3 215.2,100.3 216.1,100.3 216.9,100.3 217.8,100.3 218.6,100.3 219.5,100.3 220.3,100.3 221.2,100.3 222.0,100.3 222.9,100.3 223.7,100.3 224.6,100.3 225.4,100.3 226.3,100.4 227.1,100.4 228.0,100.4 228.8,100.4 229.7,100.4 230.5,100.4 231.3,100.4 232.2,100.4 233.0,100.4 233.9,100.4 234.7,100.4 235.6,100.4 236.4,100.4 237.3,100.4 238.1,100.4 239.0,100.4 239.8,100.4 240.7,100.4 241.5,100.4 242.4,100.4 243.2,100.4 244.1,100.4 244.9,100.4 245.8,100.4 246.6,100.4 247.4,100.4 248.3,100.4 249.1,100.4 250.0,100.4 250.8,100.4 251.7,100.4 252.5,100.4 253.4,100.4 254.2,100.4 255.1,100.4 255.9,100.4 256.8,100.4 257.6,100.4 258.5,100.4 259.3,100.4 260.2,100.4 261.0,100.4 261.9,100.4 262.7,100.4 263.6,100.4 264.4,100.4 265.2,100.3 266.1,100.3 266.9,100.2 267.8,100.1 268.6,100.0 269.5,99.9 270.3,99.7 271.2,99.5 272.0,99.2 272.9,98.9 273.7,98.4 274.6,97.9 275.4,97.3 276.3,96.6 277.1,95.7 278.0,94.7 278.8,93.5 279.7,92.2 280.5,90.6 281.3,88.9 282.2,86.9 283.0,84.7 283.9,82.3 284.7,79.7 285.6,76.8 286.4,73.8 287.3,70.6 288.1,67.2 289.0,63.8 289.8,60.3 290.7,56.8 291.5,53.3 292.4,49.9 293.2,46.6 294.1,43.6 294.9,40.8 295.8,38.4 296.6,36.4 297.5,34.8 298.3,33.7 299.1,33.1 300.0,32.9 300.8,33.4 301.7,34.3 302.5,35.7 303.4,37.6 304.2,39.8 305.1,42.5 305.9,45.4 306.8,48.6 307.6,52.0 308.5,55.5 309.3,59.1 310.2,62.7 311.0,66.2 311.9,69.7 312.7,73.0 313.6,76.2 314.4,79.2 315.2,82.0 316.1,84.6 316.9,87.0 317.8,89.1 318.6,91.1 319.5,92.8 320.3,94.3 321.2,95.6 322.0,96.8 322.9,97.8 323.7,98.7 324.6,99.4 325.4,100.0 326.3,100.5 327.1,101.0 328.0,101.3 328.8,101.7 329.7,101.9 330.5,102.1 331.4,102.3 332.2,102.5 333.0,102.6 333.9,102.7 334.7,102.8 335.6,102.9 336.4,103.0 337.3,103.1 338.1,103.2 339.0,103.3 339.8,103.3 340.7,103.4 341.5,103.4 342.4,103.5 343.2,103.6 344.1,103.6 344.9,103.7 345.8,103.7 346.6,103.8 347.5,103.9 348.3,103.9" fill="none" stroke="#a36c40" stroke-width="0.95" stroke-opacity="1.0" stroke-linejoin="round"/>
<polyline points="196.6,100.1 197.4,100.1 198.3,100.1 199.1,100.1 200.0,100.1 200.8,100.1 201.7,100.0 202.5,100.0 203.4,100.0 204.2,100.0 205.1,100.0 205.9,99.9 206.8,99.9 207.6,99.9 208.5,99.8 209.3,99.8 210.2,99.7 211.0,99.7 211.9,99.6 212.7,99.5 213.5,99.5 214.4,99.4 215.2,99.3 216.1,99.2 216.9,99.1 217.8,98.9 218.6,98.8 219.5,98.7 220.3,98.5 221.2,98.3 222.0,98.2 222.9,98.0 223.7,97.8 224.6,97.6 225.4,97.4 226.3,97.2 227.1,97.0 228.0,96.8 228.8,96.6 229.7,96.4 230.5,96.2 231.3,96.0 232.2,95.8 233.0,95.6 233.9,95.5 234.7,95.3 235.6,95.1 236.4,94.9 237.3,94.7 238.1,94.5 239.0,94.4 239.8,94.2 240.7,94.0 241.5,93.8 242.4,93.6 243.2,93.3 244.1,93.1 244.9,92.8 245.8,92.5 246.6,92.2 247.4,91.8 248.3,91.5 249.1,91.0 250.0,90.6 250.8,90.1 251.7,89.6 252.5,89.1 253.4,88.6 254.2,88.0 255.1,87.4 255.9,86.8 256.8,86.1 257.6,85.5 258.5,84.9 259.3,84.2 260.2,83.6 261.0,83.0 261.9,82.4 262.7,81.9 263.6,81.4 264.4,80.9 265.2,80.5 266.1,80.1 266.9,79.8 267.8,79.6 268.6,79.4 269.5,79.2 270.3,79.1 271.2,79.1 272.0,79.0 272.9,79.0 273.7,79.0 274.6,79.0 275.4,78.9 276.3,78.7 277.1,78.5 278.0,78.1 278.8,77.7 279.7,77.0 280.5,76.2 281.3,75.2 282.2,74.0 283.0,72.5 283.9,70.9 284.7,69.0 285.6,66.8 286.4,64.5 287.3,62.0 288.1,59.3 289.0,56.4 289.8,53.5 290.7,50.5 291.5,47.6 292.4,44.7 293.2,41.9 294.1,39.3 294.9,36.9 295.8,34.9 296.6,33.2 297.5,31.9 298.3,31.1 299.1,30.7 300.0,30.8 300.8,31.4 301.7,32.5 302.5,34.1 303.4,36.1 304.2,38.5 305.1,41.3 305.9,44.3 306.8,47.6 307.6,51.1 308.5,54.7 309.3,58.3 310.2,61.9 311.0,65.5 311.9,69.1 312.7,72.4 313.6,75.7 314.4,78.7 315.2,81.5 316.1,84.1 316.9,86.5 317.8,88.7 318.6,90.7 319.5,92.4 320.3,93.9 321.2,95.3 322.0,96.5 322.9,97.5 323.7,98.3 324.6,99.1 325.4,99.7 326.3,100.2 327.1,100.7 328.0,101.1 328.8,101.4 329.7,101.7 330.5,101.9 331.4,102.1 332.2,102.2 333.0,102.4 333.9,102.5 334.7,102.6 335.6,102.7 336.4,102.8 337.3,102.9 338.1,103.0 339.0,103.0 339.8,103.1 340.7,103.2 341.5,103.3 342.4,103.3 343.2,103.4 344.1,103.4 344.9,103.5 345.8,103.6 346.6,103.6 347.5,103.7 348.3,103.8" fill="none" stroke="#f6a2f2" stroke-width="1.1" stroke-opacity="1.0" stroke-linejoin="round"/>
<polyline points="196.6,96.4 197.4,96.4 198.3,96.4 199.1,96.4 200.0,96.4 200.8,96.4 201.7,96.4 202.5,96.4 203.4,96.3 204.2,96.3 205.1,96.3 205.9,96.3 206.8,96.2 207.6,96.2 208.5,96.2 209.3,96.1 210.2,96.1 211.0,96.0 211.9,95.9 212.7,95.9 213.5,95.8 214.4,95.7 215.2,95.6 216.1,95.5 216.9,95.4 217.8,95.3 218.6,95.1 219.5,95.0 220.3,94.8 221.2,94.7 222.0,94.5 222.9,94.3 223.7,94.1 224.6,94.0 225.4,93.8 226.3,93.6 227.1,93.4 228.0,93.2 228.8,93.0 229.7,92.8 230.5,92.6 231.3,92.4 232.2,92.2 233.0,92.0 233.9,91.8 234.7,91.6 235.6,91.4 236.4,91.2 237.3,91.1 238.1,90.9 239.0,90.7 239.8,90.5 240.7,90.3 241.5,90.1 242.4,89.9 243.2,89.6 244.1,89.4 244.9,89.1 245.8,88.8 246.6,88.5 247.4,88.2 248.3,87.8 249.1,87.4 250.0,86.9 250.8,86.5 251.7,86.0 252.5,85.4 253.4,84.9 254.2,84.3 255.1,83.7 255.9,83.1 256.8,82.5 257.6,81.8 258.5,81.2 259.3,80.6 260.2,79.9 261.0,79.3 261.9,78.7 262.7,78.2 263.6,77.7 264.4,77.2 265.2,76.8 266.1,76.4 266.9,76.1 267.8,75.9 268.6,75.7 269.5,75.6 270.3,75.5 271.2,75.4 272.0,75.4 272.9,75.4 273.7,75.3 274.6,75.3 275.4,75.2 276.3,75.1 277.1,74.8 278.0,74.5 278.8,74.0 279.7,73.4 280.5,72.5 281.3,71.5 282.2,70.3 283.0,68.9 283.9,67.2 284.7,65.3 285.6,63.2 286.4,60.8 287.3,58.3 288.1,55.6 289.0,52.8 289.8,49.8 290.7,46.9 291.5,43.9 292.4,41.0 293.2,38.2 294.1,35.6 294.9,33.3 295.8,31.2 296.6,29.5 297.5,28.2 298.3,27.4 299.1,27.0 300.0,27.1 300.8,27.8 301.7,28.9 302.5,30.4 303.4,32.4 304.2,34.9 305.1,37.6 305.9,40.7 306.8,44.0 307.6,47.4 308.5,51.0 309.3,54.6 310.2,58.3 311.0,61.9 311.9,65.4 312.7,68.8 313.6,72.0 314.4,75.0 315.2,77.9 316.1,80.5 316.9,82.9 317.8,85.0 318.6,87.0 319.5,88.7 320.3,90.3 321.2,91.6 322.0,92.8 322.9,93.8 323.7,94.7 324.6,95.4 325.4,96.0 326.3,96.6 327.1,97.0 328.0,97.4 328.8,97.7 329.7,98.0 330.5,98.2 331.4,98.4 332.2,98.6 333.0,98.7 333.9,98.8 334.7,98.9 335.6,99.0 336.4,99.1 337.3,99.2 338.1,99.3 339.0,99.4 339.8,99.4 340.7,99.5 341.5,99.6 342.4,99.6 343.2,99.7 344.1,99.8 344.9,99.8 345.8,99.9 346.6,100.0 347.5,100.0 348.3,100.1" fill="none" stroke="#b868ee" stroke-width="1.15" stroke-opacity="1.0" stroke-linejoin="round"/>
</g>
<line x1="275.20" y1="31.00" x2="288.13" y2="59.06" stroke="#8a5a30" stroke-width="0.8" stroke-opacity="1.0"/>
<polygon points="289.30,61.60 286.82,59.11 289.02,58.10" fill="#8a5a30" fill-opacity="1.0"/>
<line x1="259.40" y1="54.80" x2="267.35" y2="74.41" stroke="#a06a3a" stroke-width="0.8" stroke-opacity="1.0"/>
<polygon points="268.40,77.00 266.04,74.40 268.28,73.49" fill="#a06a3a" fill-opacity="1.0"/>
<line x1="233.20" y1="74.00" x2="243.63" y2="92.56" stroke="#f5b47a" stroke-width="0.8" stroke-opacity="1.0"/>
<polygon points="245.00,95.00 242.33,92.72 244.44,91.53" fill="#f5b47a" fill-opacity="1.0"/>
<text x="178.80" y="12.50" font-size="12.00" fill="#111" stroke="#111" stroke-width="0.2">(d)</text>
<text x="329.41" y="12.02" font-size="7.33" fill="#111" stroke="#111" stroke-width="0.2">O 1s</text>
<text x="261.10" y="26.32" font-size="7.62" fill="#111" stroke="#111" stroke-width="0.2">Lattice O</text>
<text x="249.20" y="43.00" font-size="7.40" fill="#111" stroke="#111" stroke-width="0.2">O-C</text>
<text x="249.20" y="52.35" font-size="7.40" fill="#111" stroke="#111" stroke-width="0.2">O=C</text>
<text x="218.79" y="70.28" font-size="7.64" fill="#111" stroke="#111" stroke-width="0.2">O-C=O</text>
<rect x="20.00" y="154.60" width="151.70" height="122.00" fill="none" stroke="#151515" stroke-width="1.25"/>
<line x1="34.68" y1="276.60" x2="34.68" y2="274.30" stroke="#222" stroke-width="0.9" stroke-opacity="1.0"/>
<line x1="59.15" y1="276.60" x2="59.15" y2="274.30" stroke="#222" stroke-width="0.9" stroke-opacity="1.0"/>
<line x1="83.62" y1="276.60" x2="83.62" y2="274.30" stroke="#222" stroke-width="0.9" stroke-opacity="1.0"/>
<line x1="108.08" y1="276.60" x2="108.08" y2="274.30" stroke="#222" stroke-width="0.9" stroke-opacity="1.0"/>
<line x1="132.55" y1="276.60" x2="132.55" y2="274.30" stroke="#222" stroke-width="0.9" stroke-opacity="1.0"/>
<line x1="157.02" y1="276.60" x2="157.02" y2="274.30" stroke="#222" stroke-width="0.9" stroke-opacity="1.0"/>
<line x1="22.45" y1="276.60" x2="22.45" y2="275.10" stroke="#222" stroke-width="0.8" stroke-opacity="1.0"/>
<line x1="46.91" y1="276.60" x2="46.91" y2="275.10" stroke="#222" stroke-width="0.8" stroke-opacity="1.0"/>
<line x1="71.38" y1="276.60" x2="71.38" y2="275.10" stroke="#222" stroke-width="0.8" stroke-opacity="1.0"/>
<line x1="95.85" y1="276.60" x2="95.85" y2="275.10" stroke="#222" stroke-width="0.8" stroke-opacity="1.0"/>
<line x1="120.32" y1="276.60" x2="120.32" y2="275.10" stroke="#222" stroke-width="0.8" stroke-opacity="1.0"/>
<line x1="144.79" y1="276.60" x2="144.79" y2="275.10" stroke="#222" stroke-width="0.8" stroke-opacity="1.0"/>
<line x1="169.25" y1="276.60" x2="169.25" y2="275.10" stroke="#222" stroke-width="0.8" stroke-opacity="1.0"/>
<text x="26.79" y="286.05" font-size="9.5" fill="#111" stroke="#111" stroke-width="0.2">735</text>
<text x="51.32" y="286.05" font-size="9.5" fill="#111" stroke="#111" stroke-width="0.2">730</text>
<text x="75.73" y="286.05" font-size="9.5" fill="#111" stroke="#111" stroke-width="0.2">725</text>
<text x="100.25" y="286.05" font-size="9.5" fill="#111" stroke="#111" stroke-width="0.2">720</text>
<text x="124.66" y="286.05" font-size="9.5" fill="#111" stroke="#111" stroke-width="0.2">715</text>
<text x="149.19" y="286.05" font-size="9.5" fill="#111" stroke="#111" stroke-width="0.2">710</text>
<text x="48.90" y="297.10" font-size="9.85" fill="#111" stroke="#111" stroke-width="0.2">Binding Energy (eV)</text>
<text x="0" y="0" font-size="9.9" text-anchor="middle" fill="#111" stroke="#111" stroke-width="0.2" transform="translate(13.60,215.40) rotate(-90)">Intensity (a. u.)</text>
<clipPath id="c01"><rect x="20.60" y="155.20" width="150.50" height="120.80"/></clipPath>
<g clip-path="url(#c01)">
<polyline points="20.0,217.1 20.7,217.2 21.4,217.2 22.1,217.3 22.8,217.3 23.5,217.4 24.2,217.4 24.8,217.5 25.5,217.5 26.2,217.5 26.9,217.6 27.6,217.6 28.3,217.7 29.0,217.7 29.7,217.8 30.4,217.8 31.1,217.8 31.8,217.9 32.5,217.9 33.2,217.9 33.9,218.0 34.5,218.0 35.2,218.0 35.9,218.0 36.6,218.0 37.3,218.1 38.0,218.1 38.7,218.1 39.4,218.1 40.1,218.1 40.8,218.1 41.5,218.1 42.2,218.1 42.9,218.1 43.6,218.1 44.2,218.1 44.9,218.1 45.6,218.1 46.3,218.1 47.0,218.1 47.7,218.1 48.4,218.1 49.1,218.1 49.8,218.1 50.5,218.1 51.2,218.1 51.9,218.1 52.6,218.1 53.2,218.1 53.9,218.1 54.6,218.1 55.3,218.1 56.0,218.1 56.7,218.1 57.4,218.1 58.1,218.1 58.8,218.1 59.5,218.1 60.2,218.1 60.9,218.1 61.6,218.1 62.3,218.2 62.9,218.3 63.6,218.4 64.3,218.6 65.0,218.7 65.7,218.9 66.4,219.1 67.1,219.3 67.8,219.6 68.5,219.8 69.2,220.1 69.9,220.3 70.6,220.6 71.3,220.9 72.0,221.2 72.6,221.4 73.3,221.7 74.0,222.0 74.7,222.3 75.4,222.6 76.1,222.9 76.8,223.2 77.5,223.5 78.2,223.7 78.9,224.0 79.6,224.2 80.3,224.5 81.0,224.7 81.6,225.0 82.3,225.3 83.0,225.6 83.7,225.9 84.4,226.3 85.1,226.6 85.8,226.9 86.5,227.3 87.2,227.6 87.9,228.0 88.6,228.3 89.3,228.7 90.0,229.0 90.7,229.3 91.3,229.7 92.0,230.0 92.7,230.3 93.4,230.5 94.1,230.8 94.8,231.0 95.5,231.3 96.2,231.4 96.9,231.6 97.6,231.8 98.3,231.9 99.0,232.0 99.7,232.0 100.4,232.0 101.0,232.0 101.7,232.0 102.4,232.0 103.1,232.1 103.8,232.1 104.5,232.1 105.2,232.1 105.9,232.1 106.6,232.1 107.3,232.1 108.0,232.1 108.7,232.1 109.4,232.1 110.1,232.1 110.7,232.1 111.4,232.1 112.1,232.1 112.8,232.1 113.5,232.1 114.2,232.1 114.9,232.1 115.6,232.1 116.3,232.1 117.0,232.1 117.7,232.2 118.4,232.2 119.1,232.2 119.7,232.2 120.4,232.2 121.1,232.3 121.8,232.3 122.5,232.5 123.2,232.6 123.9,232.8 124.6,233.0 125.3,233.2 126.0,233.5 126.7,233.8 127.4,234.1 128.1,234.4 128.8,234.8 129.4,235.1 130.1,235.5 130.8,235.9 131.5,236.3 132.2,236.7 132.9,237.1 133.6,237.5 134.3,238.0 135.0,238.4 135.7,238.8 136.4,239.3 137.1,239.7 137.8,240.1 138.5,240.6 139.1,241.0 139.8,241.4 140.5,241.8 141.2,242.3 141.9,242.7 142.6,243.2 143.3,243.8 144.0,244.3 144.7,244.9 145.4,245.4 146.1,246.0 146.8,246.6 147.5,247.2 148.1,247.8 148.8,248.4 149.5,249.0 150.2,249.6 150.9,250.2 151.6,250.7 152.3,251.3 153.0,251.8 153.7,252.3 154.4,252.8 155.1,253.3 155.8,253.7 156.5,254.2 157.2,254.6 157.8,255.1 158.5,255.5 159.2,255.9 159.9,256.4 160.6,256.8 161.3,257.2 162.0,257.6 162.7,258.0 163.4,258.4 164.1,258.8 164.8,259.2 165.5,259.6 166.2,259.9 166.9,260.3 167.5,260.7 168.2,261.0 168.9,261.4 169.6,261.7 170.3,262.0 171.0,262.3 171.7,262.7" fill="none" stroke="#cc3333" stroke-width="0.8" stroke-opacity="1.0" stroke-linejoin="round"/>
<polyline points="20.0,216.4 20.7,216.5 21.4,216.5 22.1,216.6 22.8,216.6 23.5,216.7 24.2,216.7 24.8,216.8 25.5,216.8 26.2,216.8 26.9,216.9 27.6,216.9 28.3,217.0 29.0,217.0 29.7,217.1 30.4,217.1 31.1,217.1 31.8,217.2 32.5,217.2 33.2,217.2 33.9,217.3 34.5,217.3 35.2,217.3 35.9,217.3 36.6,217.3 37.3,217.4 38.0,217.4 38.7,217.4 39.4,217.4 40.1,217.4 40.8,217.4 41.5,217.4 42.2,217.4 42.9,217.4 43.6,217.4 44.2,217.4 44.9,217.4 45.6,217.4 46.3,217.4 47.0,217.4 47.7,217.4 48.4,217.4 49.1,217.4 49.8,217.4 50.5,217.4 51.2,217.4 51.9,217.4 52.6,217.4 53.2,217.4 53.9,217.4 54.6,217.4 55.3,217.4 56.0,217.4 56.7,217.4 57.4,217.4 58.1,217.4 58.8,217.4 59.5,217.4 60.2,217.4 60.9,217.4 61.6,217.4 62.3,217.5 62.9,217.6 63.6,217.7 64.3,217.9 65.0,218.0 65.7,218.2 66.4,218.4 67.1,218.6 67.8,218.9 68.5,219.1 69.2,219.4 69.9,219.6 70.6,219.9 71.3,220.2 72.0,220.5 72.6,220.7 73.3,221.0 74.0,221.3 74.7,221.6 75.4,221.9 76.1,222.2 76.8,222.5 77.5,222.8 78.2,223.0 78.9,223.3 79.6,223.5 80.3,223.8 81.0,224.0 81.6,224.3 82.3,224.6 83.0,224.9 83.7,225.2 84.4,225.6 85.1,225.9 85.8,226.2 86.5,226.6 87.2,226.9 87.9,227.3 88.6,227.6 89.3,228.0 90.0,228.3 90.7,228.6 91.3,229.0 92.0,229.3 92.7,229.6 93.4,229.8 94.1,230.1 94.8,230.3 95.5,230.6 96.2,230.7 96.9,230.9 97.6,231.1 98.3,231.2 99.0,231.3 99.7,231.3 100.4,231.3 101.0,231.3 101.7,231.3 102.4,231.3 103.1,231.4 103.8,231.4 104.5,231.4 105.2,231.4 105.9,231.4 106.6,231.4 107.3,231.4 108.0,231.4 108.7,231.4 109.4,231.4 110.1,231.4 110.7,231.4 111.4,231.4 112.1,231.4 112.8,231.4 113.5,231.4 114.2,231.4 114.9,231.4 115.6,231.4 116.3,231.4 117.0,231.4 117.7,231.5 118.4,231.5 119.1,231.5 119.7,231.5 120.4,231.5 121.1,231.6 121.8,231.6 122.5,231.8 123.2,231.9 123.9,232.1 124.6,232.3 125.3,232.5 126.0,232.8 126.7,233.1 127.4,233.4 128.1,233.7 128.8,234.1 129.4,234.4 130.1,234.8 130.8,235.2 131.5,235.6 132.2,236.0 132.9,236.4 133.6,236.8 134.3,237.3 135.0,237.7 135.7,238.1 136.4,238.6 137.1,239.0 137.8,239.4 138.5,239.9 139.1,240.3 139.8,240.7 140.5,241.1 141.2,241.6 141.9,242.0 142.6,242.5 143.3,243.1 144.0,243.6 144.7,244.2 145.4,244.7 146.1,245.3 146.8,245.9 147.5,246.5 148.1,247.1 148.8,247.7 149.5,248.3 150.2,248.9 150.9,249.5 151.6,250.0 152.3,250.6 153.0,251.1 153.7,251.6 154.4,252.1 155.1,252.6 155.8,253.0 156.5,253.5 157.2,253.9 157.8,254.4 158.5,254.8 159.2,255.2 159.9,255.7 160.6,256.1 161.3,256.5 162.0,256.9 162.7,257.3 163.4,257.7 164.1,258.1 164.8,258.5 165.5,258.9 166.2,259.2 166.9,259.6 167.5,260.0 168.2,260.3 168.9,260.7 169.6,261.0 170.3,261.3 171.0,261.6 171.7,262.0" fill="none" stroke="#5a93b8" stroke-width="0.9" stroke-opacity="1.0" stroke-linejoin="round"/>
<polyline points="31.1,217.0 31.8,217.0 32.5,217.0 33.2,216.9 33.9,216.9 34.5,216.8 35.2,216.7 35.9,216.5 36.6,216.3 37.3,216.2 38.0,215.9 38.7,215.7 39.4,215.5 40.1,215.2 40.8,215.0 41.5,214.8 42.2,214.6 42.9,214.5 43.6,214.5 44.2,214.5 44.9,214.5 45.6,214.6 46.3,214.7 47.0,214.9 47.7,215.2 48.4,215.4 49.1,215.6 49.8,215.9 50.5,216.1 51.2,216.3 51.9,216.5 52.6,216.7 53.2,216.8 53.9,217.0 54.6,217.1 55.3,217.1 56.0,217.2 56.7,217.3 57.4,217.3" fill="none" stroke="#5a93b8" stroke-width="0.85" stroke-opacity="1.0" stroke-linejoin="round"/>
<polyline points="62.3,217.4 62.9,217.5 63.6,217.5 64.3,217.6 65.0,217.6 65.7,217.6 66.4,217.6 67.1,217.6 67.8,217.5 68.5,217.4 69.2,217.2 69.9,216.9 70.6,216.5 71.3,216.1 72.0,215.6 72.6,215.0 73.3,214.4 74.0,213.8 74.7,213.2 75.4,212.6 76.1,212.0 76.8,211.6 77.5,211.2 78.2,211.0 78.9,211.0 79.6,211.1 80.3,211.4 81.0,211.9 81.6,212.6 82.3,213.4 83.0,214.4 83.7,215.5 84.4,216.7 85.1,218.0 85.8,219.3 86.5,220.5 87.2,221.7 87.9,222.9 88.6,224.0 89.3,225.0 90.0,225.9 90.7,226.7 91.3,227.4 92.0,228.1 92.7,228.7 93.4,229.2 94.1,229.6 94.8,230.0 95.5,230.3 96.2,230.6 96.9,230.8 97.6,231.0" fill="none" stroke="#cc3333" stroke-width="0.85" stroke-opacity="1.0" stroke-linejoin="round"/>
<polyline points="72.6,220.7 73.3,220.9 74.0,221.1 74.7,221.3 75.4,221.5 76.1,221.6 76.8,221.7 77.5,221.6 78.2,221.5 78.9,221.2 79.6,220.8 80.3,220.3 81.0,219.6 81.6,218.7 82.3,217.8 83.0,216.6 83.7,215.4 84.4,214.1 85.1,212.7 85.8,211.4 86.5,210.1 87.2,208.9 87.9,208.0 88.6,207.3 89.3,206.9 90.0,206.8 90.7,207.1 91.3,207.8 92.0,208.7 92.7,210.0 93.4,211.6 94.1,213.3 94.8,215.1 95.5,217.0 96.2,218.9 96.9,220.8 97.6,222.5 98.3,224.0 99.0,225.4 99.7,226.6 100.4,227.6 101.0,228.5 101.7,229.2 102.4,229.7 103.1,230.1 103.8,230.5 104.5,230.7 105.2,230.9 105.9,231.1 106.6,231.2 107.3,231.3 108.0,231.3" fill="none" stroke="#9e2a2a" stroke-width="0.85" stroke-opacity="1.0" stroke-linejoin="round"/>
<polyline points="83.0,224.8 83.7,225.1 84.4,225.4 85.1,225.7 85.8,226.0 86.5,226.3 87.2,226.6 87.9,226.9 88.6,227.1 89.3,227.4 90.0,227.6 90.7,227.8 91.3,228.0 92.0,228.1 92.7,228.2 93.4,228.3 94.1,228.3 94.8,228.3 95.5,228.2 96.2,228.1 96.9,228.0 97.6,227.8 98.3,227.6 99.0,227.3 99.7,227.0 100.4,226.7 101.0,226.3 101.7,226.0 102.4,225.6 103.1,225.3 103.8,225.1 104.5,224.8 105.2,224.6 105.9,224.4 106.6,224.2 107.3,224.1 108.0,224.1 108.7,224.1 109.4,224.1 110.1,224.2 110.7,224.3 111.4,224.5 112.1,224.7 112.8,225.0 113.5,225.2 114.2,225.5 114.9,225.9 115.6,226.2 116.3,226.6 117.0,226.9 117.7,227.3 118.4,227.7 119.1,228.0 119.7,228.4 120.4,228.7 121.1,229.1 121.8,229.4 122.5,229.8 123.2,230.2 123.9,230.6 124.6,231.0 125.3,231.5 126.0,231.9 126.7,232.3 127.4,232.7 128.1,233.2 128.8,233.6 129.4,234.0 130.1,234.5 130.8,234.9 131.5,235.4 132.2,235.8 132.9,236.3 133.6,236.7 134.3,237.2" fill="none" stroke="#5a93b8" stroke-width="0.85" stroke-opacity="1.0" stroke-linejoin="round"/>
<polyline points="120.4,231.4 121.1,231.4 121.8,231.4 122.5,231.5 123.2,231.6 123.9,231.6 124.6,231.7 125.3,231.7 126.0,231.7 126.7,231.7 127.4,231.7 128.1,231.6 128.8,231.5 129.4,231.2 130.1,231.0 130.8,230.6 131.5,230.2 132.2,229.6 132.9,229.1 133.6,228.4 134.3,227.7 135.0,227.0 135.7,226.2 136.4,225.4 137.1,224.7 137.8,224.0 138.5,223.4 139.1,222.9 139.8,222.6 140.5,222.4 141.2,222.3 141.9,222.6 142.6,223.0 143.3,223.7 144.0,224.5 144.7,225.6 145.4,226.9 146.1,228.3 146.8,229.9 147.5,231.5 148.1,233.3 148.8,235.0 149.5,236.8 150.2,238.6 150.9,240.4 151.6,242.0 152.3,243.6 153.0,245.1 153.7,246.6 154.4,247.8 155.1,249.0 155.8,250.1 156.5,251.1 157.2,252.0 157.8,252.8 158.5,253.6 159.2,254.3 159.9,254.9 160.6,255.5 161.3,256.1 162.0,256.6 162.7,257.1 163.4,257.5 164.1,258.0 164.8,258.4" fill="none" stroke="#cc3333" stroke-width="0.85" stroke-opacity="1.0" stroke-linejoin="round"/>
<polyline points="133.6,236.7 134.3,237.1 135.0,237.5 135.7,237.8 136.4,238.1 137.1,238.4 137.8,238.6 138.5,238.7 139.1,238.8 139.8,238.7 140.5,238.5 141.2,238.1 141.9,237.6 142.6,237.0 143.3,236.1 144.0,234.9 144.7,233.6 145.4,231.9 146.1,230.0 146.8,227.8 147.5,225.4 148.1,222.7 148.8,219.9 149.5,216.9 150.2,213.9 150.9,211.0 151.6,208.1 152.3,205.5 153.0,203.2 153.7,201.3 154.4,199.8 155.1,198.9 155.8,198.5 156.5,198.8 157.2,199.7 157.8,201.3 158.5,203.4 159.2,206.0 159.9,209.1 160.6,212.5 161.3,216.2 162.0,220.1 162.7,224.1 163.4,228.1 164.1,232.0 164.8,235.7 165.5,239.2 166.2,242.5 166.9,245.5 167.5,248.3 168.2,250.7 168.9,252.8 169.6,254.7 170.3,256.3 171.0,257.7 171.7,258.9" fill="none" stroke="#9e2a2a" stroke-width="0.85" stroke-opacity="1.0" stroke-linejoin="round"/>
<polyline points="20.0,216.4 20.7,216.5 21.4,216.5 22.1,216.6 22.8,216.6 23.5,216.7 24.2,216.7 24.8,216.7 25.5,216.8 26.2,216.8 26.9,216.9 27.6,216.9 28.3,217.0 29.0,217.0 29.7,217.0 30.4,217.0 31.1,217.0 31.8,217.0 32.5,217.0 33.2,216.9 33.9,216.9 34.5,216.8 35.2,216.7 35.9,216.5 36.6,216.3 37.3,216.2 38.0,215.9 38.7,215.7 39.4,215.5 40.1,215.2 40.8,215.0 41.5,214.8 42.2,214.6 42.9,214.5 43.6,214.5 44.2,214.5 44.9,214.5 45.6,214.6 46.3,214.7 47.0,214.9 47.7,215.2 48.4,215.4 49.1,215.6 49.8,215.9 50.5,216.1 51.2,216.3 51.9,216.5 52.6,216.7 53.2,216.8 53.9,217.0 54.6,217.1 55.3,217.1 56.0,217.2 56.7,217.3 57.4,217.3 58.1,217.3 58.8,217.3 59.5,217.3 60.2,217.3 60.9,217.3 61.6,217.4 62.3,217.4 62.9,217.5 63.6,217.5 64.3,217.6 65.0,217.6 65.7,217.6 66.4,217.6 67.1,217.6 67.8,217.5 68.5,217.4 69.2,217.1 69.9,216.9 70.6,216.5 71.3,216.0 72.0,215.5 72.6,214.9 73.3,214.3 74.0,213.6 74.7,212.9 75.4,212.2 76.1,211.4 76.8,210.7 77.5,210.1 78.2,209.4 78.9,208.9 79.6,208.3 80.3,207.8 81.0,207.4 81.6,206.9 82.3,206.5 83.0,206.1 83.7,205.6 84.4,205.1 85.1,204.6 85.8,204.2 86.5,203.7 87.2,203.4 87.9,203.2 88.6,203.1 89.3,203.3 90.0,203.7 90.7,204.4 91.3,205.3 92.0,206.4 92.7,207.8 93.4,209.3 94.1,211.0 94.8,212.7 95.5,214.5 96.2,216.1 96.9,217.7 97.6,219.1 98.3,220.4 99.0,221.4 99.7,222.3 100.4,223.0 101.0,223.4 101.7,223.8 102.4,224.0 103.1,224.1 103.8,224.2 104.5,224.2 105.2,224.1 105.9,224.1 106.6,224.0 107.3,224.0 108.0,224.0 108.7,224.0 109.4,224.1 110.1,224.2 110.7,224.3 111.4,224.5 112.1,224.7 112.8,225.0 113.5,225.2 114.2,225.5 114.9,225.9 115.6,226.2 116.3,226.6 117.0,226.9 117.7,227.3 118.4,227.6 119.1,228.0 119.7,228.3 120.4,228.6 121.1,228.9 121.8,229.2 122.5,229.6 123.2,229.9 123.9,230.1 124.6,230.4 125.3,230.6 126.0,230.8 126.7,231.0 127.4,231.0 128.1,231.0 128.8,231.0 129.4,230.9 130.1,230.6 130.8,230.3 131.5,229.9 132.2,229.4 132.9,228.9 133.6,228.2 134.3,227.5 135.0,226.7 135.7,225.8 136.4,225.0 137.1,224.1 137.8,223.2 138.5,222.3 139.1,221.4 139.8,220.5 140.5,219.7 141.2,218.9 141.9,218.1 142.6,217.4 143.3,216.7 144.0,215.9 144.7,215.0 145.4,214.1 146.1,213.0 146.8,211.7 147.5,210.4 148.1,208.9 148.8,207.2 149.5,205.5 150.2,203.7 150.9,201.9 151.6,200.1 152.3,198.6 153.0,197.2 153.7,196.2 154.4,195.5 155.1,195.3 155.8,195.6 156.5,196.4 157.2,197.8 157.8,199.7 158.5,202.1 159.2,205.0 159.9,208.3 160.6,212.0 161.3,215.8 162.0,219.8 162.7,223.9 163.4,227.9 164.1,231.8 164.8,235.6 165.5,239.2 166.2,242.5 166.9,245.5 167.5,248.2 168.2,250.7 168.9,252.8 169.6,254.7 170.3,256.3 171.0,257.7 171.7,258.9" fill="none" stroke="#6e6e6e" stroke-width="0.95" stroke-opacity="1.0" stroke-linejoin="round"/>
<polyline points="20.0,210.7 20.5,208.6 21.0,209.9 21.5,209.4 22.0,209.4 22.5,209.5 23.0,208.7 23.6,209.4 24.1,209.1 24.6,211.0 25.1,209.5 25.6,209.3 26.1,209.2 26.6,209.0 27.1,208.8 27.6,209.1 28.1,209.5 28.6,209.1 29.1,209.6 29.6,209.0 30.1,209.1 30.7,209.7 31.2,209.2 31.7,208.7 32.2,208.8 32.7,209.0 33.2,209.5 33.7,208.4 34.2,208.3 34.7,208.8 35.2,207.8 35.7,207.9 36.2,208.3 36.7,208.0 37.3,207.5 37.8,207.6 38.3,205.8 38.8,207.3 39.3,206.2 39.8,205.7 40.3,206.3 40.8,206.3 41.3,205.6 41.8,205.2 42.3,205.5 42.8,205.4 43.3,206.0 43.8,205.6 44.4,205.3 44.9,205.7 45.4,205.2 45.9,204.9 46.4,205.7 46.9,205.8 47.4,205.5 47.9,205.4 48.4,206.0 48.9,205.0 49.4,206.5 49.9,206.6 50.4,205.8 50.9,206.7 51.5,206.4 52.0,207.3 52.5,206.1 53.0,206.7 53.5,207.5 54.0,207.8 54.5,206.4 55.0,207.2 55.5,207.6 56.0,207.2 56.5,208.2 57.0,207.0 57.5,207.7 58.1,207.1 58.6,208.2 59.1,207.6 59.6,207.4 60.1,206.8 60.6,208.3 61.1,207.9 61.6,208.0 62.1,208.2 62.6,207.9 63.1,207.5 63.6,207.5 64.1,207.5 64.6,208.5 65.2,207.3 65.7,207.7 66.2,207.9 66.7,208.1 67.2,208.3 67.7,207.4 68.2,207.1 68.7,207.8 69.2,208.2 69.7,207.8 70.2,207.3 70.7,206.9 71.2,206.8 71.8,206.2 72.3,206.3 72.8,205.2 73.3,205.2 73.8,204.6 74.3,204.4 74.8,203.8 75.3,204.3 75.8,203.4 76.3,202.9 76.8,200.8 77.3,201.1 77.8,200.6 78.3,200.7 78.9,199.1 79.4,200.3 79.9,199.9 80.4,198.5 80.9,198.3 81.4,198.1 81.9,198.2 82.4,198.2 82.9,198.5 83.4,197.2 83.9,197.4 84.4,196.8 84.9,197.2 85.4,196.4 86.0,196.4 86.5,195.0 87.0,195.2 87.5,194.8 88.0,195.7 88.5,195.3 89.0,195.0 89.5,195.2 90.0,195.9 90.5,195.9 91.0,196.5 91.5,197.9 92.0,199.6 92.6,199.4 93.1,200.4 93.6,201.3 94.1,202.5 94.6,204.6 95.1,206.0 95.6,206.9 96.1,208.3 96.6,209.4 97.1,210.5 97.6,210.8 98.1,212.2 98.6,213.3 99.1,213.6 99.7,214.4 100.2,214.7 100.7,215.3 101.2,216.2 101.7,215.9 102.2,216.1 102.7,216.7 103.2,216.7 103.7,217.2 104.2,215.5 104.7,216.8 105.2,216.2 105.7,216.4 106.3,216.7 106.8,216.8 107.3,216.7 107.8,216.3 108.3,217.0 108.8,216.1 109.3,216.2 109.8,216.7 110.3,216.2 110.8,217.5 111.3,217.1 111.8,217.8 112.3,216.9 112.8,216.9 113.4,217.4 113.9,217.8 114.4,217.5 114.9,218.1 115.4,218.2 115.9,219.2 116.4,218.4 116.9,219.4 117.4,218.9 117.9,219.0 118.4,219.4 118.9,219.4 119.4,220.2 119.9,220.8 120.5,220.7 121.0,221.1 121.5,221.8 122.0,221.4 122.5,221.6 123.0,221.6 123.5,221.2 124.0,222.4 124.5,221.5 125.0,222.7 125.5,222.6 126.0,223.2 126.5,222.7 127.1,222.5 127.6,223.0 128.1,222.6 128.6,222.7 129.1,222.7 129.6,222.5 130.1,222.3 130.6,221.8 131.1,221.8 131.6,220.7 132.1,221.2 132.6,220.3 133.1,220.9 133.6,220.5 134.2,218.5 134.7,218.8 135.2,218.1 135.7,217.1 136.2,217.2 136.7,216.1 137.2,214.8 137.7,214.8 138.2,214.2 138.7,213.7 139.2,212.4 139.7,212.6 140.2,212.1 140.8,210.6 141.3,210.3 141.8,210.0 142.3,209.2 142.8,209.7 143.3,208.5 143.8,207.4 144.3,206.9 144.8,206.6 145.3,207.0 145.8,205.1 146.3,204.4 146.8,203.7 147.3,202.5 147.9,202.4 148.4,200.0 148.9,199.4 149.4,197.9 149.9,196.9 150.4,194.8 150.9,194.8 151.4,192.7 151.9,191.6 152.4,190.1 152.9,189.3 153.4,189.1 153.9,188.7 154.4,188.2 155.0,188.3 155.5,188.3 156.0,188.4 156.5,189.4 157.0,190.3 157.5,191.4 158.0,193.3 158.5,195.4 159.0,197.1 159.5,199.1 160.0,202.1 160.5,205.4 161.0,207.3 161.6,210.3 162.1,213.2 162.6,216.9 163.1,218.5 163.6,222.5 164.1,225.8 164.6,227.7 165.1,231.5 165.6,233.7 166.1,235.7 166.6,238.3 167.1,239.7 167.6,242.1 168.1,245.1 168.7,245.5 169.2,248.3 169.7,248.9 170.2,250.6 170.7,251.3 171.2,251.3 171.7,253.0" fill="none" stroke="#1a1a1a" stroke-width="0.98" stroke-opacity="1.0" stroke-linejoin="round"/>
</g>
<circle cx="132.3" cy="220.3" r="1.1" fill="#111"/>
<line x1="45.70" y1="194.50" x2="45.70" y2="209.20" stroke="#5a93b8" stroke-width="0.75" stroke-opacity="1.0"/>
<polygon points="45.70,212.00 44.49,208.70 46.91,208.70" fill="#5a93b8" fill-opacity="1.0"/>
<line x1="53.20" y1="194.50" x2="119.63" y2="236.50" stroke="#5a93b8" stroke-width="0.75" stroke-opacity="1.0"/>
<polygon points="122.00,238.00 118.56,237.26 119.86,235.21" fill="#5a93b8" fill-opacity="1.0"/>
<line x1="84.40" y1="181.00" x2="63.53" y2="213.05" stroke="#f6b0b4" stroke-width="0.75" stroke-opacity="1.0"/>
<polygon points="62.00,215.40 62.79,211.97 64.81,213.29" fill="#f6b0b4" fill-opacity="1.0"/>
<line x1="96.00" y1="181.00" x2="138.38" y2="240.72" stroke="#f6b0b4" stroke-width="0.75" stroke-opacity="1.0"/>
<polygon points="140.00,243.00 137.10,241.01 139.08,239.61" fill="#f6b0b4" fill-opacity="1.0"/>
<line x1="123.00" y1="175.00" x2="92.95" y2="202.89" stroke="#9e2a2a" stroke-width="0.75" stroke-opacity="1.0"/>
<polygon points="90.90,204.80 92.50,201.67 94.14,203.44" fill="#9e2a2a" fill-opacity="1.0"/>
<line x1="137.00" y1="176.00" x2="152.14" y2="196.64" stroke="#9e2a2a" stroke-width="0.75" stroke-opacity="1.0"/>
<polygon points="153.80,198.90 150.87,196.95 152.82,195.52" fill="#9e2a2a" fill-opacity="1.0"/>
<line x1="125.00" y1="193.00" x2="83.96" y2="211.26" stroke="#cc3333" stroke-width="0.75" stroke-opacity="1.0"/>
<polygon points="81.40,212.40 83.92,209.95 84.91,212.16" fill="#cc3333" fill-opacity="1.0"/>
<line x1="134.90" y1="194.90" x2="142.52" y2="218.04" stroke="#cc3333" stroke-width="0.75" stroke-opacity="1.0"/>
<polygon points="143.40,220.70 141.22,217.94 143.52,217.19" fill="#cc3333" fill-opacity="1.0"/>
<text x="1.60" y="161.25" font-size="12.00" fill="#111" stroke="#111" stroke-width="0.2">(b)</text>
<text x="25.19" y="163.11" font-size="7.80" fill="#111" stroke="#111" stroke-width="0.2" textLength="18.43" lengthAdjust="spacing">Fe 2p</text>
<text x="35.51" y="191.56" font-size="7.41" fill="#111" stroke="#111" stroke-width="0.2">plasmons</text>
<text x="86.81" y="178.13" font-size="7.45" fill="#111" stroke="#111" stroke-width="0.2">Fe</text>
<text x="96.09" y="174.64" font-size="5.00" fill="#111" stroke="#111" stroke-width="0.15">3+</text>
<text x="101.54" y="180.25" font-size="5.00" fill="#111" stroke="#111" stroke-width="0.15">tet</text>
<text x="122.61" y="173.13" font-size="7.45" fill="#111" stroke="#111" stroke-width="0.2">Fe</text>
<text x="131.83" y="169.70" font-size="5.00" fill="#111" stroke="#111" stroke-width="0.15">2+</text>
<text x="137.21" y="175.25" font-size="5.00" fill="#111" stroke="#111" stroke-width="0.15">oct</text>
<text x="123.61" y="191.73" font-size="7.45" fill="#111" stroke="#111" stroke-width="0.2">Fe</text>
<text x="132.89" y="188.24" font-size="5.00" fill="#111" stroke="#111" stroke-width="0.15">3+</text>
<text x="138.21" y="193.85" font-size="5.00" fill="#111" stroke="#111" stroke-width="0.15">oct</text>
<rect x="20.00" y="307.30" width="151.70" height="122.00" fill="none" stroke="#151515" stroke-width="1.25"/>
<line x1="34.68" y1="429.30" x2="34.68" y2="427.00" stroke="#222" stroke-width="0.9" stroke-opacity="1.0"/>
<line x1="59.15" y1="429.30" x2="59.15" y2="427.00" stroke="#222" stroke-width="0.9" stroke-opacity="1.0"/>
<line x1="83.62" y1="429.30" x2="83.62" y2="427.00" stroke="#222" stroke-width="0.9" stroke-opacity="1.0"/>
<line x1="108.08" y1="429.30" x2="108.08" y2="427.00" stroke="#222" stroke-width="0.9" stroke-opacity="1.0"/>
<line x1="132.55" y1="429.30" x2="132.55" y2="427.00" stroke="#222" stroke-width="0.9" stroke-opacity="1.0"/>
<line x1="157.02" y1="429.30" x2="157.02" y2="427.00" stroke="#222" stroke-width="0.9" stroke-opacity="1.0"/>
<line x1="22.45" y1="429.30" x2="22.45" y2="427.80" stroke="#222" stroke-width="0.8" stroke-opacity="1.0"/>
<line x1="46.91" y1="429.30" x2="46.91" y2="427.80" stroke="#222" stroke-width="0.8" stroke-opacity="1.0"/>
<line x1="71.38" y1="429.30" x2="71.38" y2="427.80" stroke="#222" stroke-width="0.8" stroke-opacity="1.0"/>
<line x1="95.85" y1="429.30" x2="95.85" y2="427.80" stroke="#222" stroke-width="0.8" stroke-opacity="1.0"/>
<line x1="120.32" y1="429.30" x2="120.32" y2="427.80" stroke="#222" stroke-width="0.8" stroke-opacity="1.0"/>
<line x1="144.79" y1="429.30" x2="144.79" y2="427.80" stroke="#222" stroke-width="0.8" stroke-opacity="1.0"/>
<line x1="169.25" y1="429.30" x2="169.25" y2="427.80" stroke="#222" stroke-width="0.8" stroke-opacity="1.0"/>
<text x="26.79" y="438.75" font-size="9.5" fill="#111" stroke="#111" stroke-width="0.2">735</text>
<text x="51.32" y="438.75" font-size="9.5" fill="#111" stroke="#111" stroke-width="0.2">730</text>
<text x="75.73" y="438.75" font-size="9.5" fill="#111" stroke="#111" stroke-width="0.2">725</text>
<text x="100.25" y="438.75" font-size="9.5" fill="#111" stroke="#111" stroke-width="0.2">720</text>
<text x="124.66" y="438.75" font-size="9.5" fill="#111" stroke="#111" stroke-width="0.2">715</text>
<text x="149.19" y="438.75" font-size="9.5" fill="#111" stroke="#111" stroke-width="0.2">710</text>
<text x="48.90" y="449.80" font-size="9.85" fill="#111" stroke="#111" stroke-width="0.2">Binding Energy (eV)</text>
<text x="0" y="0" font-size="9.9" text-anchor="middle" fill="#111" stroke="#111" stroke-width="0.2" transform="translate(13.60,368.10) rotate(-90)">Intensity (a. u.)</text>
<clipPath id="c02"><rect x="20.60" y="307.90" width="150.50" height="120.80"/></clipPath>
<g clip-path="url(#c02)">
<polyline points="20.0,371.8 20.7,371.9 21.4,372.0 22.1,372.0 22.8,372.1 23.5,372.1 24.2,372.2 24.8,372.3 25.5,372.3 26.2,372.4 26.9,372.4 27.6,372.5 28.3,372.5 29.0,372.6 29.7,372.7 30.4,372.7 31.1,372.8 31.8,372.8 32.5,372.9 33.2,372.9 33.9,373.0 34.5,373.0 35.2,373.0 35.9,373.1 36.6,373.1 37.3,373.2 38.0,373.2 38.7,373.3 39.4,373.3 40.1,373.3 40.8,373.4 41.5,373.4 42.2,373.4 42.9,373.5 43.6,373.5 44.2,373.5 44.9,373.5 45.6,373.6 46.3,373.6 47.0,373.6 47.7,373.6 48.4,373.6 49.1,373.7 49.8,373.7 50.5,373.7 51.2,373.7 51.9,373.8 52.6,373.8 53.2,373.8 53.9,373.8 54.6,373.9 55.3,373.9 56.0,373.9 56.7,374.0 57.4,374.0 58.1,374.0 58.8,374.1 59.5,374.1 60.2,374.2 60.9,374.2 61.6,374.3 62.3,374.4 62.9,374.5 63.6,374.7 64.3,374.8 65.0,375.0 65.7,375.2 66.4,375.3 67.1,375.5 67.8,375.8 68.5,376.0 69.2,376.2 69.9,376.4 70.6,376.7 71.3,376.9 72.0,377.1 72.6,377.4 73.3,377.6 74.0,377.9 74.7,378.1 75.4,378.4 76.1,378.6 76.8,378.9 77.5,379.1 78.2,379.3 78.9,379.6 79.6,379.8 80.3,380.0 81.0,380.2 81.6,380.4 82.3,380.6 83.0,380.9 83.7,381.1 84.4,381.3 85.1,381.5 85.8,381.8 86.5,382.0 87.2,382.2 87.9,382.5 88.6,382.7 89.3,383.0 90.0,383.2 90.7,383.4 91.3,383.7 92.0,383.9 92.7,384.1 93.4,384.3 94.1,384.5 94.8,384.8 95.5,385.0 96.2,385.2 96.9,385.4 97.6,385.5 98.3,385.7 99.0,385.9 99.7,386.1 100.4,386.2 101.0,386.4 101.7,386.5 102.4,386.7 103.1,386.8 103.8,387.0 104.5,387.1 105.2,387.2 105.9,387.4 106.6,387.5 107.3,387.6 108.0,387.7 108.7,387.8 109.4,388.0 110.1,388.1 110.7,388.2 111.4,388.3 112.1,388.4 112.8,388.5 113.5,388.7 114.2,388.8 114.9,388.9 115.6,389.0 116.3,389.1 117.0,389.2 117.7,389.4 118.4,389.5 119.1,389.6 119.7,389.7 120.4,389.9 121.1,390.0 121.8,390.1 122.5,390.3 123.2,390.4 123.9,390.5 124.6,390.7 125.3,390.8 126.0,390.9 126.7,391.0 127.4,391.2 128.1,391.3 128.8,391.4 129.4,391.5 130.1,391.7 130.8,391.8 131.5,392.0 132.2,392.1 132.9,392.2 133.6,392.4 134.3,392.5 135.0,392.7 135.7,392.8 136.4,393.0 137.1,393.1 137.8,393.3 138.5,393.5 139.1,393.7 139.8,393.8 140.5,394.0 141.2,394.2 141.9,394.4 142.6,394.7 143.3,394.9 144.0,395.1 144.7,395.3 145.4,395.6 146.1,395.8 146.8,396.1 147.5,396.4 148.1,396.6 148.8,396.9 149.5,397.2 150.2,397.5 150.9,397.8 151.6,398.0 152.3,398.3 153.0,398.6 153.7,398.9 154.4,399.2 155.1,399.6 155.8,399.9 156.5,400.2 157.2,400.5 157.8,400.8 158.5,401.2 159.2,401.5 159.9,401.9 160.6,402.2 161.3,402.6 162.0,403.0 162.7,403.3 163.4,403.7 164.1,404.1 164.8,404.5 165.5,404.9 166.2,405.3 166.9,405.7 167.5,406.1 168.2,406.5 168.9,406.9 169.6,407.4 170.3,407.8 171.0,408.2 171.7,408.7" fill="none" stroke="#5a93b8" stroke-width="0.7" stroke-opacity="1.0" stroke-linejoin="round"/>
<polyline points="20.0,371.3 20.7,371.4 21.4,371.5 22.1,371.5 22.8,371.6 23.5,371.6 24.2,371.7 24.8,371.8 25.5,371.8 26.2,371.9 26.9,371.9 27.6,372.0 28.3,372.0 29.0,372.1 29.7,372.2 30.4,372.2 31.1,372.3 31.8,372.3 32.5,372.4 33.2,372.4 33.9,372.5 34.5,372.5 35.2,372.5 35.9,372.6 36.6,372.6 37.3,372.7 38.0,372.7 38.7,372.8 39.4,372.8 40.1,372.8 40.8,372.9 41.5,372.9 42.2,372.9 42.9,373.0 43.6,373.0 44.2,373.0 44.9,373.0 45.6,373.1 46.3,373.1 47.0,373.1 47.7,373.1 48.4,373.1 49.1,373.2 49.8,373.2 50.5,373.2 51.2,373.2 51.9,373.3 52.6,373.3 53.2,373.3 53.9,373.3 54.6,373.4 55.3,373.4 56.0,373.4 56.7,373.5 57.4,373.5 58.1,373.5 58.8,373.6 59.5,373.6 60.2,373.7 60.9,373.7 61.6,373.8 62.3,373.9 62.9,374.0 63.6,374.2 64.3,374.3 65.0,374.5 65.7,374.7 66.4,374.8 67.1,375.0 67.8,375.3 68.5,375.5 69.2,375.7 69.9,375.9 70.6,376.2 71.3,376.4 72.0,376.6 72.6,376.9 73.3,377.1 74.0,377.4 74.7,377.6 75.4,377.9 76.1,378.1 76.8,378.4 77.5,378.6 78.2,378.8 78.9,379.1 79.6,379.3 80.3,379.5 81.0,379.7 81.6,379.9 82.3,380.1 83.0,380.4 83.7,380.6 84.4,380.8 85.1,381.0 85.8,381.3 86.5,381.5 87.2,381.7 87.9,382.0 88.6,382.2 89.3,382.5 90.0,382.7 90.7,382.9 91.3,383.2 92.0,383.4 92.7,383.6 93.4,383.8 94.1,384.0 94.8,384.3 95.5,384.5 96.2,384.7 96.9,384.9 97.6,385.0 98.3,385.2 99.0,385.4 99.7,385.6 100.4,385.7 101.0,385.9 101.7,386.0 102.4,386.2 103.1,386.3 103.8,386.5 104.5,386.6 105.2,386.7 105.9,386.9 106.6,387.0 107.3,387.1 108.0,387.2 108.7,387.3 109.4,387.5 110.1,387.6 110.7,387.7 111.4,387.8 112.1,387.9 112.8,388.0 113.5,388.2 114.2,388.3 114.9,388.4 115.6,388.5 116.3,388.6 117.0,388.7 117.7,388.9 118.4,389.0 119.1,389.1 119.7,389.2 120.4,389.4 121.1,389.5 121.8,389.6 122.5,389.8 123.2,389.9 123.9,390.0 124.6,390.2 125.3,390.3 126.0,390.4 126.7,390.5 127.4,390.7 128.1,390.8 128.8,390.9 129.4,391.0 130.1,391.2 130.8,391.3 131.5,391.5 132.2,391.6 132.9,391.7 133.6,391.9 134.3,392.0 135.0,392.2 135.7,392.3 136.4,392.5 137.1,392.6 137.8,392.8 138.5,393.0 139.1,393.2 139.8,393.3 140.5,393.5 141.2,393.7 141.9,393.9 142.6,394.2 143.3,394.4 144.0,394.6 144.7,394.8 145.4,395.1 146.1,395.3 146.8,395.6 147.5,395.9 148.1,396.1 148.8,396.4 149.5,396.7 150.2,397.0 150.9,397.3 151.6,397.5 152.3,397.8 153.0,398.1 153.7,398.4 154.4,398.7 155.1,399.1 155.8,399.4 156.5,399.7 157.2,400.0 157.8,400.3 158.5,400.7 159.2,401.0 159.9,401.4 160.6,401.7 161.3,402.1 162.0,402.5 162.7,402.8 163.4,403.2 164.1,403.6 164.8,404.0 165.5,404.4 166.2,404.8 166.9,405.2 167.5,405.6 168.2,406.0 168.9,406.4 169.6,406.9 170.3,407.3 171.0,407.7 171.7,408.2" fill="none" stroke="#74e074" stroke-width="1.3" stroke-opacity="1.0" stroke-linejoin="round"/>
<polyline points="29.7,372.1 30.4,372.1 31.1,372.1 31.8,372.1 32.5,372.0 33.2,372.0 33.9,371.9 34.5,371.8 35.2,371.6 35.9,371.5 36.6,371.3 37.3,371.1 38.0,370.8 38.7,370.6 39.4,370.3 40.1,370.1 40.8,369.9 41.5,369.7 42.2,369.5 42.9,369.4 43.6,369.3 44.2,369.4 44.9,369.4 45.6,369.5 46.3,369.7 47.0,369.9 47.7,370.2 48.4,370.5 49.1,370.8 49.8,371.1 50.5,371.4 51.2,371.7 51.9,371.9 52.6,372.2 53.2,372.4 53.9,372.6 54.6,372.8 55.3,373.0 56.0,373.1 56.7,373.2 57.4,373.3 58.1,373.4 58.8,373.5" fill="none" stroke="#5a93b8" stroke-width="0.85" stroke-opacity="1.0" stroke-linejoin="round"/>
<polyline points="60.9,373.6 61.6,373.7 62.3,373.7 62.9,373.7 63.6,373.7 64.3,373.7 65.0,373.6 65.7,373.5 66.4,373.3 67.1,373.0 67.8,372.6 68.5,372.2 69.2,371.7 69.9,371.1 70.6,370.5 71.3,369.8 72.0,369.2 72.6,368.6 73.3,368.1 74.0,367.7 74.7,367.5 75.4,367.5 76.1,367.6 76.8,368.0 77.5,368.5 78.2,369.2 78.9,370.1 79.6,371.1 80.3,372.1 81.0,373.2 81.6,374.3 82.3,375.4 83.0,376.4 83.7,377.4 84.4,378.3 85.1,379.0 85.8,379.7 86.5,380.4 87.2,380.9 87.9,381.4 88.6,381.8 89.3,382.1 90.0,382.5 90.7,382.8 91.3,383.1" fill="none" stroke="#3fa03f" stroke-width="0.85" stroke-opacity="1.0" stroke-linejoin="round"/>
<polyline points="69.9,375.8 70.6,376.0 71.3,376.2 72.0,376.4 72.6,376.5 73.3,376.7 74.0,376.7 74.7,376.8 75.4,376.7 76.1,376.6 76.8,376.4 77.5,376.1 78.2,375.7 78.9,375.1 79.6,374.4 80.3,373.6 81.0,372.6 81.6,371.5 82.3,370.3 83.0,369.0 83.7,367.7 84.4,366.3 85.1,364.9 85.8,363.6 86.5,362.4 87.2,361.3 87.9,360.4 88.6,359.7 89.3,359.3 90.0,359.2 90.7,359.4 91.3,359.9 92.0,360.6 92.7,361.6 93.4,362.9 94.1,364.4 94.8,366.0 95.5,367.7 96.2,369.5 96.9,371.3 97.6,373.1 98.3,374.9 99.0,376.5 99.7,378.0 100.4,379.4 101.0,380.6 101.7,381.8 102.4,382.7 103.1,383.6 103.8,384.3 104.5,384.9 105.2,385.4 105.9,385.9 106.6,386.3 107.3,386.6 108.0,386.8 108.7,387.1 109.4,387.3 110.1,387.4 110.7,387.6" fill="none" stroke="#2a7a2a" stroke-width="0.85" stroke-opacity="1.0" stroke-linejoin="round"/>
<polyline points="85.1,381.0 85.8,381.2 86.5,381.4 87.2,381.6 87.9,381.7 88.6,381.9 89.3,382.1 90.0,382.2 90.7,382.3 91.3,382.4 92.0,382.5 92.7,382.5 93.4,382.6 94.1,382.5 94.8,382.5 95.5,382.3 96.2,382.2 96.9,382.0 97.6,381.8 98.3,381.5 99.0,381.2 99.7,380.8 100.4,380.4 101.0,380.0 101.7,379.5 102.4,379.1 103.1,378.6 103.8,378.2 104.5,377.8 105.2,377.4 105.9,377.0 106.6,376.7 107.3,376.4 108.0,376.3 108.7,376.2 109.4,376.1 110.1,376.2 110.7,376.3 111.4,376.5 112.1,376.8 112.8,377.2 113.5,377.7 114.2,378.2 114.9,378.8 115.6,379.4 116.3,380.0 117.0,380.7 117.7,381.4 118.4,382.2 119.1,382.9 119.7,383.6 120.4,384.3 121.1,385.0 121.8,385.6 122.5,386.2 123.2,386.8 123.9,387.4 124.6,387.9 125.3,388.3 126.0,388.7 126.7,389.1 127.4,389.5 128.1,389.8 128.8,390.1 129.4,390.4 130.1,390.7 130.8,390.9 131.5,391.1 132.2,391.3 132.9,391.5 133.6,391.7 134.3,391.9 135.0,392.1" fill="none" stroke="#5a93b8" stroke-width="0.85" stroke-opacity="1.0" stroke-linejoin="round"/>
<polyline points="108.7,387.3 109.4,387.3 110.1,387.4 110.7,387.5 111.4,387.5 112.1,387.5 112.8,387.5 113.5,387.4 114.2,387.3 114.9,387.2 115.6,387.0 116.3,386.7 117.0,386.4 117.7,386.1 118.4,385.7 119.1,385.3 119.7,384.9 120.4,384.4 121.1,384.0 121.8,383.5 122.5,383.1 123.2,382.8 123.9,382.5 124.6,382.3 125.3,382.1 126.0,382.1 126.7,382.3 127.4,382.5 128.1,382.8 128.8,383.3 129.4,383.8 130.1,384.4 130.8,385.0 131.5,385.8 132.2,386.5 132.9,387.2 133.6,387.9 134.3,388.6 135.0,389.3 135.7,389.9 136.4,390.5 137.1,391.0 137.8,391.5 138.5,391.9 139.1,392.4 139.8,392.7 140.5,393.1 141.2,393.4 141.9,393.7 142.6,394.0 143.3,394.2 144.0,394.5" fill="none" stroke="#3fa03f" stroke-width="0.85" stroke-opacity="1.0" stroke-linejoin="round"/>
<polyline points="122.5,389.7 123.2,389.8 123.9,389.8 124.6,389.9 125.3,390.0 126.0,390.0 126.7,390.0 127.4,390.0 128.1,389.9 128.8,389.8 129.4,389.6 130.1,389.4 130.8,389.1 131.5,388.8 132.2,388.3 132.9,387.8 133.6,387.3 134.3,386.6 135.0,385.8 135.7,385.0 136.4,384.1 137.1,383.1 137.8,382.1 138.5,381.1 139.1,380.0 139.8,379.0 140.5,377.9 141.2,377.0 141.9,376.1 142.6,375.3 143.3,374.6 144.0,374.1 144.7,373.8 145.4,373.7 146.1,373.7 146.8,374.0 147.5,374.4 148.1,375.1 148.8,375.9 149.5,376.9 150.2,378.1 150.9,379.4 151.6,380.8 152.3,382.2 153.0,383.8 153.7,385.3 154.4,386.8 155.1,388.4 155.8,389.9 156.5,391.3 157.2,392.7 157.8,394.0 158.5,395.3 159.2,396.4 159.9,397.5 160.6,398.5 161.3,399.4 162.0,400.3 162.7,401.0 163.4,401.8 164.1,402.5 164.8,403.1 165.5,403.7 166.2,404.2 166.9,404.8 167.5,405.3 168.2,405.8 168.9,406.3 169.6,406.7 170.3,407.2" fill="none" stroke="#3fa03f" stroke-width="0.85" stroke-opacity="1.0" stroke-linejoin="round"/>
<polyline points="139.8,393.2 140.5,393.4 141.2,393.5 141.9,393.6 142.6,393.6 143.3,393.6 144.0,393.5 144.7,393.3 145.4,393.0 146.1,392.5 146.8,391.8 147.5,390.8 148.1,389.7 148.8,388.2 149.5,386.4 150.2,384.4 150.9,382.1 151.6,379.5 152.3,376.7 153.0,373.9 153.7,371.0 154.4,368.2 155.1,365.6 155.8,363.4 156.5,361.6 157.2,360.3 157.8,359.6 158.5,359.6 159.2,360.2 159.9,361.6 160.6,363.5 161.3,366.0 162.0,368.9 162.7,372.2 163.4,375.6 164.1,379.2 164.8,382.7 165.5,386.2 166.2,389.5 166.9,392.5 167.5,395.2 168.2,397.7 168.9,399.9 169.6,401.8 170.3,403.4 171.0,404.8 171.7,406.0" fill="none" stroke="#2a7a2a" stroke-width="0.85" stroke-opacity="1.0" stroke-linejoin="round"/>
<polyline points="20.0,371.3 20.7,371.4 21.4,371.5 22.1,371.5 22.8,371.6 23.5,371.6 24.2,371.7 24.8,371.8 25.5,371.8 26.2,371.9 26.9,371.9 27.6,372.0 28.3,372.0 29.0,372.0 29.7,372.1 30.4,372.1 31.1,372.1 31.8,372.1 32.5,372.0 33.2,372.0 33.9,371.9 34.5,371.8 35.2,371.6 35.9,371.5 36.6,371.3 37.3,371.1 38.0,370.8 38.7,370.6 39.4,370.3 40.1,370.1 40.8,369.9 41.5,369.7 42.2,369.5 42.9,369.4 43.6,369.3 44.2,369.4 44.9,369.4 45.6,369.5 46.3,369.7 47.0,369.9 47.7,370.2 48.4,370.5 49.1,370.8 49.8,371.1 50.5,371.4 51.2,371.7 51.9,371.9 52.6,372.2 53.2,372.4 53.9,372.6 54.6,372.8 55.3,373.0 56.0,373.1 56.7,373.2 57.4,373.3 58.1,373.4 58.8,373.5 59.5,373.5 60.2,373.6 60.9,373.6 61.6,373.7 62.3,373.7 62.9,373.7 63.6,373.7 64.3,373.7 65.0,373.6 65.7,373.4 66.4,373.2 67.1,373.0 67.8,372.6 68.5,372.1 69.2,371.6 69.9,371.0 70.6,370.3 71.3,369.6 72.0,368.9 72.6,368.2 73.3,367.6 74.0,367.1 74.7,366.6 75.4,366.3 76.1,366.1 76.8,366.0 77.5,366.0 78.2,366.1 78.9,366.1 79.6,366.2 80.3,366.2 81.0,366.1 81.6,365.9 82.3,365.6 83.0,365.1 83.7,364.4 84.4,363.7 85.1,362.8 85.8,362.0 86.5,361.1 87.2,360.3 87.9,359.5 88.6,359.0 89.3,358.7 90.0,358.5 90.7,358.7 91.3,359.1 92.0,359.7 92.7,360.6 93.4,361.6 94.1,362.8 94.8,364.2 95.5,365.6 96.2,367.1 96.9,368.5 97.6,369.8 98.3,371.1 99.0,372.2 99.7,373.2 100.4,374.0 101.0,374.7 101.7,375.2 102.4,375.6 103.1,375.9 103.8,376.0 104.5,376.1 105.2,376.1 105.9,376.0 106.6,375.9 107.3,375.9 108.0,375.8 108.7,375.8 109.4,375.8 110.1,375.9 110.7,376.0 111.4,376.1 112.1,376.3 112.8,376.6 113.5,376.9 114.2,377.2 114.9,377.5 115.6,377.8 116.3,378.1 117.0,378.4 117.7,378.7 118.4,378.9 119.1,379.1 119.7,379.2 120.4,379.3 121.1,379.4 121.8,379.4 122.5,379.5 123.2,379.5 123.9,379.6 124.6,379.7 125.3,379.9 126.0,380.1 126.7,380.3 127.4,380.6 128.1,380.9 128.8,381.3 129.4,381.7 130.1,382.1 130.8,382.4 131.5,382.7 132.2,383.0 132.9,383.1 133.6,383.1 134.3,383.1 135.0,382.9 135.7,382.5 136.4,382.0 137.1,381.5 137.8,380.8 138.5,380.0 139.1,379.1 139.8,378.2 140.5,377.3 141.2,376.3 141.9,375.4 142.6,374.6 143.3,373.7 144.0,372.9 144.7,372.2 145.4,371.5 146.1,370.8 146.8,370.1 147.5,369.4 148.1,368.6 148.8,367.7 149.5,366.7 150.2,365.5 150.9,364.2 151.6,362.7 152.3,361.1 153.0,359.5 153.7,357.9 154.4,356.3 155.1,355.0 155.8,353.9 156.5,353.2 157.2,353.0 157.8,353.3 158.5,354.2 159.2,355.6 159.9,357.7 160.6,360.3 161.3,363.3 162.0,366.7 162.7,370.4 163.4,374.2 164.1,378.0 164.8,381.8 165.5,385.5 166.2,388.9 166.9,392.1 167.5,394.9 168.2,397.5 168.9,399.7 169.6,401.6 170.3,403.3 171.0,404.7 171.7,406.0" fill="none" stroke="#6e6e6e" stroke-width="0.95" stroke-opacity="1.0" stroke-linejoin="round"/>
<polyline points="20.0,365.6 20.5,365.0 21.0,364.9 21.5,365.6 22.0,365.1 22.5,364.6 23.0,365.0 23.6,365.7 24.1,365.0 24.6,365.6 25.1,365.9 25.6,365.2 26.1,364.6 26.6,364.5 27.1,365.0 27.6,365.4 28.1,365.1 28.6,365.2 29.1,364.7 29.6,365.0 30.1,364.5 30.7,364.6 31.2,364.1 31.7,363.9 32.2,364.3 32.7,363.9 33.2,363.8 33.7,364.5 34.2,364.0 34.7,365.2 35.2,364.1 35.7,363.3 36.2,363.7 36.7,363.3 37.3,362.6 37.8,363.2 38.3,362.2 38.8,360.9 39.3,362.4 39.8,361.6 40.3,362.3 40.8,361.1 41.3,360.7 41.8,361.8 42.3,360.4 42.8,360.9 43.3,361.4 43.8,360.7 44.4,360.6 44.9,360.7 45.4,361.1 45.9,360.4 46.4,361.1 46.9,361.2 47.4,362.2 47.9,361.2 48.4,361.1 48.9,362.0 49.4,361.7 49.9,362.2 50.4,362.3 50.9,363.0 51.5,362.4 52.0,362.8 52.5,361.9 53.0,362.8 53.5,364.0 54.0,363.1 54.5,363.2 55.0,363.1 55.5,364.0 56.0,363.9 56.5,363.4 57.0,364.3 57.5,364.2 58.1,364.4 58.6,363.9 59.1,365.0 59.6,364.4 60.1,364.2 60.6,364.1 61.1,364.2 61.6,364.8 62.1,364.3 62.6,364.9 63.1,364.7 63.6,365.1 64.1,364.8 64.6,364.4 65.2,363.5 65.7,364.5 66.2,364.6 66.7,364.1 67.2,364.1 67.7,363.4 68.2,363.2 68.7,362.6 69.2,363.3 69.7,362.3 70.2,361.6 70.7,360.8 71.2,360.9 71.8,361.1 72.3,360.2 72.8,359.2 73.3,359.8 73.8,359.4 74.3,358.9 74.8,358.6 75.3,358.5 75.8,358.1 76.3,358.2 76.8,357.5 77.3,358.6 77.8,358.1 78.3,359.0 78.9,357.3 79.4,358.6 79.9,358.8 80.4,358.3 80.9,358.6 81.4,358.7 81.9,358.4 82.4,357.7 82.9,357.6 83.4,357.7 83.9,357.4 84.4,356.4 84.9,355.8 85.4,355.3 86.0,355.1 86.5,353.5 87.0,352.8 87.5,353.0 88.0,352.0 88.5,351.9 89.0,351.9 89.5,352.0 90.0,351.3 90.5,352.2 91.0,351.4 91.5,352.8 92.0,352.3 92.6,353.1 93.1,354.8 93.6,355.1 94.1,355.9 94.6,357.1 95.1,358.5 95.6,359.3 96.1,360.4 96.6,362.0 97.1,362.2 97.6,363.3 98.1,364.2 98.6,365.9 99.1,366.6 99.7,367.4 100.2,367.5 100.7,367.9 101.2,368.9 101.7,368.7 102.2,369.5 102.7,369.7 103.2,369.2 103.7,369.6 104.2,369.6 104.7,370.4 105.2,370.8 105.7,369.5 106.3,369.5 106.8,368.4 107.3,369.5 107.8,369.3 108.3,368.8 108.8,369.6 109.3,368.5 109.8,369.1 110.3,369.3 110.8,368.7 111.3,369.8 111.8,370.0 112.3,369.0 112.8,369.2 113.4,370.2 113.9,370.1 114.4,369.8 114.9,370.4 115.4,370.7 115.9,370.9 116.4,371.5 116.9,371.5 117.4,372.2 117.9,372.2 118.4,372.0 118.9,372.3 119.4,372.5 119.9,372.2 120.5,371.4 121.0,372.4 121.5,372.0 122.0,372.7 122.5,372.0 123.0,372.2 123.5,372.1 124.0,372.8 124.5,372.1 125.0,372.0 125.5,372.4 126.0,372.1 126.5,372.5 127.1,372.6 127.6,373.0 128.1,373.9 128.6,373.1 129.1,373.6 129.6,373.7 130.1,374.4 130.6,373.8 131.1,374.2 131.6,374.7 132.1,375.1 132.6,374.9 133.1,374.7 133.6,374.6 134.2,375.1 134.7,375.4 135.2,374.7 135.7,374.4 136.2,374.1 136.7,373.1 137.2,372.9 137.7,372.4 138.2,372.1 138.7,371.3 139.2,370.2 139.7,370.5 140.2,370.1 140.8,368.6 141.3,368.2 141.8,367.4 142.3,367.0 142.8,365.4 143.3,366.2 143.8,364.7 144.3,364.9 144.8,363.8 145.3,363.1 145.8,362.7 146.3,362.7 146.8,361.4 147.3,361.1 147.9,360.5 148.4,359.4 148.9,360.1 149.4,359.0 149.9,357.9 150.4,357.6 150.9,355.7 151.4,355.0 151.9,354.7 152.4,353.2 152.9,350.6 153.4,348.9 153.9,348.8 154.4,348.7 155.0,347.0 155.5,346.3 156.0,346.0 156.5,344.9 157.0,345.2 157.5,345.6 158.0,345.8 158.5,346.5 159.0,347.1 159.5,349.0 160.0,350.2 160.5,352.9 161.0,355.6 161.6,356.5 162.1,358.4 162.6,361.9 163.1,365.1 163.6,368.2 164.1,371.1 164.6,373.1 165.1,375.8 165.6,379.4 166.1,380.9 166.6,384.2 167.1,385.9 167.6,388.4 168.1,390.3 168.7,392.0 169.2,393.6 169.7,394.2 170.2,396.1 170.7,397.1 171.2,398.3 171.7,399.6" fill="none" stroke="#1a1a1a" stroke-width="0.98" stroke-opacity="1.0" stroke-linejoin="round"/>
</g>
<line x1="44.00" y1="351.00" x2="44.00" y2="366.20" stroke="#5a93b8" stroke-width="0.75" stroke-opacity="1.0"/>
<polygon points="44.00,369.00 42.79,365.70 45.21,365.70" fill="#5a93b8" fill-opacity="1.0"/>
<line x1="51.00" y1="350.00" x2="115.57" y2="387.10" stroke="#5a93b8" stroke-width="0.75" stroke-opacity="1.0"/>
<polygon points="118.00,388.50 114.54,387.90 115.74,385.81" fill="#5a93b8" fill-opacity="1.0"/>
<line x1="90.50" y1="332.30" x2="63.96" y2="368.35" stroke="#80e080" stroke-width="0.75" stroke-opacity="1.0"/>
<polygon points="62.30,370.60 63.28,367.23 65.23,368.66" fill="#80e080" fill-opacity="1.0"/>
<line x1="96.00" y1="332.30" x2="136.74" y2="387.74" stroke="#80e080" stroke-width="0.75" stroke-opacity="1.0"/>
<polygon points="138.40,390.00 135.47,388.06 137.42,386.62" fill="#80e080" fill-opacity="1.0"/>
<line x1="142.90" y1="327.60" x2="98.50" y2="362.76" stroke="#2a7a2a" stroke-width="0.75" stroke-opacity="1.0"/>
<polygon points="96.30,364.50 98.14,361.50 99.64,363.40" fill="#2a7a2a" fill-opacity="1.0"/>
<line x1="147.10" y1="327.60" x2="152.86" y2="364.23" stroke="#2a7a2a" stroke-width="0.75" stroke-opacity="1.0"/>
<polygon points="153.30,367.00 151.59,363.93 153.98,363.55" fill="#2a7a2a" fill-opacity="1.0"/>
<line x1="120.70" y1="359.70" x2="87.97" y2="373.98" stroke="#3fa03f" stroke-width="0.75" stroke-opacity="1.0"/>
<polygon points="85.40,375.10 87.94,372.67 88.91,374.89" fill="#3fa03f" fill-opacity="1.0"/>
<line x1="127.90" y1="358.30" x2="137.90" y2="370.25" stroke="#3fa03f" stroke-width="0.75" stroke-opacity="1.0"/>
<polygon points="139.70,372.40 136.65,370.65 138.51,369.09" fill="#3fa03f" fill-opacity="1.0"/>
<text x="2.20" y="312.80" font-size="12.00" fill="#111" stroke="#111" stroke-width="0.2">(c)</text>
<text x="23.59" y="317.61" font-size="7.80" fill="#111" stroke="#111" stroke-width="0.2" textLength="19.13" lengthAdjust="spacing">Fe 2p</text>
<text x="30.31" y="349.37" font-size="7.45" fill="#111" stroke="#111" stroke-width="0.2">plasmons</text>
<text x="85.71" y="330.03" font-size="7.45" fill="#111" stroke="#111" stroke-width="0.2">Fe</text>
<text x="94.99" y="326.54" font-size="5.00" fill="#111" stroke="#111" stroke-width="0.15">3+</text>
<text x="100.44" y="332.15" font-size="5.00" fill="#111" stroke="#111" stroke-width="0.15">tet</text>
<text x="138.41" y="325.13" font-size="7.45" fill="#111" stroke="#111" stroke-width="0.2">Fe</text>
<text x="147.63" y="321.70" font-size="5.00" fill="#111" stroke="#111" stroke-width="0.15">2+</text>
<text x="153.01" y="327.25" font-size="5.00" fill="#111" stroke="#111" stroke-width="0.15">oct</text>
<text x="117.71" y="357.33" font-size="7.45" fill="#111" stroke="#111" stroke-width="0.2">Fe</text>
<text x="126.99" y="353.84" font-size="5.00" fill="#111" stroke="#111" stroke-width="0.15">3+</text>
<text x="132.31" y="359.45" font-size="5.00" fill="#111" stroke="#111" stroke-width="0.15">oct</text>
<rect x="196.60" y="154.60" width="151.70" height="122.00" fill="none" stroke="#151515" stroke-width="1.25"/>
<line x1="211.28" y1="276.60" x2="211.28" y2="274.30" stroke="#222" stroke-width="0.9" stroke-opacity="1.0"/>
<line x1="235.75" y1="276.60" x2="235.75" y2="274.30" stroke="#222" stroke-width="0.9" stroke-opacity="1.0"/>
<line x1="260.22" y1="276.60" x2="260.22" y2="274.30" stroke="#222" stroke-width="0.9" stroke-opacity="1.0"/>
<line x1="284.68" y1="276.60" x2="284.68" y2="274.30" stroke="#222" stroke-width="0.9" stroke-opacity="1.0"/>
<line x1="309.15" y1="276.60" x2="309.15" y2="274.30" stroke="#222" stroke-width="0.9" stroke-opacity="1.0"/>
<line x1="333.62" y1="276.60" x2="333.62" y2="274.30" stroke="#222" stroke-width="0.9" stroke-opacity="1.0"/>
<line x1="199.05" y1="276.60" x2="199.05" y2="275.10" stroke="#222" stroke-width="0.8" stroke-opacity="1.0"/>
<line x1="223.51" y1="276.60" x2="223.51" y2="275.10" stroke="#222" stroke-width="0.8" stroke-opacity="1.0"/>
<line x1="247.98" y1="276.60" x2="247.98" y2="275.10" stroke="#222" stroke-width="0.8" stroke-opacity="1.0"/>
<line x1="272.45" y1="276.60" x2="272.45" y2="275.10" stroke="#222" stroke-width="0.8" stroke-opacity="1.0"/>
<line x1="296.92" y1="276.60" x2="296.92" y2="275.10" stroke="#222" stroke-width="0.8" stroke-opacity="1.0"/>
<line x1="321.39" y1="276.60" x2="321.39" y2="275.10" stroke="#222" stroke-width="0.8" stroke-opacity="1.0"/>
<line x1="345.85" y1="276.60" x2="345.85" y2="275.10" stroke="#222" stroke-width="0.8" stroke-opacity="1.0"/>
<text x="203.39" y="286.05" font-size="9.5" fill="#111" stroke="#111" stroke-width="0.2">735</text>
<text x="227.92" y="286.05" font-size="9.5" fill="#111" stroke="#111" stroke-width="0.2">730</text>
<text x="252.33" y="286.05" font-size="9.5" fill="#111" stroke="#111" stroke-width="0.2">725</text>
<text x="276.85" y="286.05" font-size="9.5" fill="#111" stroke="#111" stroke-width="0.2">720</text>
<text x="301.26" y="286.05" font-size="9.5" fill="#111" stroke="#111" stroke-width="0.2">715</text>
<text x="325.79" y="286.05" font-size="9.5" fill="#111" stroke="#111" stroke-width="0.2">710</text>
<text x="225.50" y="297.10" font-size="9.85" fill="#111" stroke="#111" stroke-width="0.2">Binding Energy (eV)</text>
<text x="0" y="0" font-size="9.9" text-anchor="middle" fill="#111" stroke="#111" stroke-width="0.2" transform="translate(190.20,215.40) rotate(-90)">Intensity (a. u.)</text>
<clipPath id="c11"><rect x="197.20" y="155.20" width="150.50" height="120.80"/></clipPath>
<g clip-path="url(#c11)">
<polyline points="196.6,223.1 197.3,223.2 198.0,223.3 198.7,223.4 199.4,223.5 200.1,223.5 200.8,223.6 201.4,223.7 202.1,223.8 202.8,223.9 203.5,224.0 204.2,224.0 204.9,224.1 205.6,224.2 206.3,224.3 207.0,224.4 207.7,224.4 208.4,224.5 209.1,224.6 209.8,224.6 210.5,224.7 211.1,224.8 211.8,224.8 212.5,224.9 213.2,224.9 213.9,225.0 214.6,225.1 215.3,225.1 216.0,225.2 216.7,225.2 217.4,225.2 218.1,225.3 218.8,225.3 219.5,225.4 220.2,225.4 220.8,225.4 221.5,225.4 222.2,225.5 222.9,225.5 223.6,225.5 224.3,225.5 225.0,225.6 225.7,225.6 226.4,225.6 227.1,225.6 227.8,225.7 228.5,225.7 229.2,225.7 229.8,225.7 230.5,225.8 231.2,225.8 231.9,225.8 232.6,225.9 233.3,225.9 234.0,225.9 234.7,226.0 235.4,226.0 236.1,226.1 236.8,226.1 237.5,226.2 238.2,226.3 238.9,226.4 239.5,226.4 240.2,226.5 240.9,226.7 241.6,226.8 242.3,226.9 243.0,227.0 243.7,227.2 244.4,227.3 245.1,227.5 245.8,227.7 246.5,227.8 247.2,228.0 247.9,228.2 248.6,228.4 249.2,228.6 249.9,228.7 250.6,228.9 251.3,229.1 252.0,229.3 252.7,229.5 253.4,229.7 254.1,229.9 254.8,230.1 255.5,230.3 256.2,230.5 256.9,230.7 257.6,230.9 258.2,231.1 258.9,231.4 259.6,231.6 260.3,231.9 261.0,232.1 261.7,232.4 262.4,232.7 263.1,233.0 263.8,233.3 264.5,233.5 265.2,233.8 265.9,234.1 266.6,234.4 267.3,234.7 267.9,235.0 268.6,235.3 269.3,235.6 270.0,235.9 270.7,236.2 271.4,236.5 272.1,236.7 272.8,237.0 273.5,237.3 274.2,237.5 274.9,237.7 275.6,238.0 276.3,238.2 277.0,238.4 277.6,238.6 278.3,238.8 279.0,238.9 279.7,239.1 280.4,239.3 281.1,239.5 281.8,239.6 282.5,239.8 283.2,239.9 283.9,240.1 284.6,240.3 285.3,240.4 286.0,240.6 286.7,240.7 287.3,240.9 288.0,241.0 288.7,241.1 289.4,241.3 290.1,241.4 290.8,241.6 291.5,241.7 292.2,241.9 292.9,242.0 293.6,242.2 294.3,242.4 295.0,242.5 295.7,242.7 296.3,242.8 297.0,243.0 297.7,243.2 298.4,243.4 299.1,243.5 299.8,243.7 300.5,243.9 301.2,244.0 301.9,244.2 302.6,244.3 303.3,244.5 304.0,244.7 304.7,244.8 305.4,245.0 306.0,245.2 306.7,245.4 307.4,245.5 308.1,245.7 308.8,245.9 309.5,246.1 310.2,246.3 310.9,246.5 311.6,246.7 312.3,246.9 313.0,247.1 313.7,247.3 314.4,247.5 315.1,247.7 315.7,248.0 316.4,248.2 317.1,248.5 317.8,248.7 318.5,249.0 319.2,249.3 319.9,249.6 320.6,250.0 321.3,250.3 322.0,250.6 322.7,251.0 323.4,251.4 324.1,251.7 324.7,252.1 325.4,252.5 326.1,252.9 326.8,253.3 327.5,253.7 328.2,254.1 328.9,254.5 329.6,254.8 330.3,255.2 331.0,255.6 331.7,256.0 332.4,256.3 333.1,256.7 333.8,257.1 334.4,257.4 335.1,257.8 335.8,258.2 336.5,258.5 337.2,258.9 337.9,259.3 338.6,259.7 339.3,260.0 340.0,260.4 340.7,260.8 341.4,261.2 342.1,261.6 342.8,261.9 343.5,262.3 344.1,262.7 344.8,263.1 345.5,263.5 346.2,263.9 346.9,264.2 347.6,264.6 348.3,265.0" fill="none" stroke="#5a93b8" stroke-width="0.8" stroke-opacity="1.0" stroke-linejoin="round"/>
<polyline points="196.6,224.0 197.3,224.1 198.0,224.2 198.7,224.3 199.4,224.4 200.1,224.4 200.8,224.5 201.4,224.6 202.1,224.7 202.8,224.8 203.5,224.9 204.2,224.9 204.9,225.0 205.6,225.1 206.3,225.2 207.0,225.3 207.7,225.3 208.4,225.4 209.1,225.5 209.8,225.5 210.5,225.6 211.1,225.7 211.8,225.7 212.5,225.8 213.2,225.8 213.9,225.9 214.6,226.0 215.3,226.0 216.0,226.1 216.7,226.1 217.4,226.1 218.1,226.2 218.8,226.2 219.5,226.3 220.2,226.3 220.8,226.3 221.5,226.3 222.2,226.4 222.9,226.4 223.6,226.4 224.3,226.4 225.0,226.5 225.7,226.5 226.4,226.5 227.1,226.5 227.8,226.6 228.5,226.6 229.2,226.6 229.8,226.6 230.5,226.7 231.2,226.7 231.9,226.7 232.6,226.8 233.3,226.8 234.0,226.8 234.7,226.9 235.4,226.9 236.1,227.0 236.8,227.0 237.5,227.1 238.2,227.2 238.9,227.3 239.5,227.3 240.2,227.4 240.9,227.6 241.6,227.7 242.3,227.8 243.0,227.9 243.7,228.1 244.4,228.2 245.1,228.4 245.8,228.6 246.5,228.7 247.2,228.9 247.9,229.1 248.6,229.3 249.2,229.5 249.9,229.6 250.6,229.8 251.3,230.0 252.0,230.2 252.7,230.4 253.4,230.6 254.1,230.8 254.8,231.0 255.5,231.2 256.2,231.4 256.9,231.6 257.6,231.8 258.2,232.0 258.9,232.3 259.6,232.5 260.3,232.8 261.0,233.0 261.7,233.3 262.4,233.6 263.1,233.9 263.8,234.2 264.5,234.4 265.2,234.7 265.9,235.0 266.6,235.3 267.3,235.6 267.9,235.9 268.6,236.2 269.3,236.5 270.0,236.8 270.7,237.1 271.4,237.4 272.1,237.6 272.8,237.9 273.5,238.2 274.2,238.4 274.9,238.6 275.6,238.9 276.3,239.1 277.0,239.3 277.6,239.5 278.3,239.7 279.0,239.8 279.7,240.0 280.4,240.2 281.1,240.4 281.8,240.5 282.5,240.7 283.2,240.8 283.9,241.0 284.6,241.2 285.3,241.3 286.0,241.5 286.7,241.6 287.3,241.8 288.0,241.9 288.7,242.0 289.4,242.2 290.1,242.3 290.8,242.5 291.5,242.6 292.2,242.8 292.9,242.9 293.6,243.1 294.3,243.3 295.0,243.4 295.7,243.6 296.3,243.7 297.0,243.9 297.7,244.1 298.4,244.3 299.1,244.4 299.8,244.6 300.5,244.8 301.2,244.9 301.9,245.1 302.6,245.2 303.3,245.4 304.0,245.6 304.7,245.7 305.4,245.9 306.0,246.1 306.7,246.3 307.4,246.4 308.1,246.6 308.8,246.8 309.5,247.0 310.2,247.2 310.9,247.4 311.6,247.6 312.3,247.8 313.0,248.0 313.7,248.2 314.4,248.4 315.1,248.6 315.7,248.9 316.4,249.1 317.1,249.4 317.8,249.6 318.5,249.9 319.2,250.2 319.9,250.5 320.6,250.9 321.3,251.2 322.0,251.5 322.7,251.9 323.4,252.3 324.1,252.6 324.7,253.0 325.4,253.4 326.1,253.8 326.8,254.2 327.5,254.6 328.2,255.0 328.9,255.4 329.6,255.7 330.3,256.1 331.0,256.5 331.7,256.9 332.4,257.2 333.1,257.6 333.8,258.0 334.4,258.3 335.1,258.7 335.8,259.1 336.5,259.4 337.2,259.8 337.9,260.2 338.6,260.6 339.3,260.9 340.0,261.3 340.7,261.7 341.4,262.1 342.1,262.5 342.8,262.8 343.5,263.2 344.1,263.6 344.8,264.0 345.5,264.4 346.2,264.8 346.9,265.1 347.6,265.5 348.3,265.9" fill="none" stroke="#eeb030" stroke-width="1.2" stroke-opacity="1.0" stroke-linejoin="round"/>
<polyline points="196.6,223.7 197.3,223.8 198.0,223.8 198.7,223.9 199.4,223.9 200.1,224.0 200.8,224.0 201.4,224.1 202.1,224.1 202.8,224.1 203.5,224.1 204.2,224.1 204.9,224.1 205.6,224.0 206.3,224.0 207.0,223.9 207.7,223.8 208.4,223.7 209.1,223.6 209.8,223.5 210.5,223.3 211.1,223.2 211.8,223.0 212.5,222.8 213.2,222.7 213.9,222.5 214.6,222.3 215.3,222.1 216.0,221.9 216.7,221.7 217.4,221.5 218.1,221.4 218.8,221.2 219.5,221.1 220.2,220.9 220.8,220.8 221.5,220.7 222.2,220.7 222.9,220.6 223.6,220.6 224.3,220.7 225.0,220.7 225.7,220.8 226.4,220.9 227.1,221.0 227.8,221.2 228.5,221.4 229.2,221.6 229.8,221.8 230.5,222.0 231.2,222.3 231.9,222.6 232.6,222.8 233.3,223.1 234.0,223.4 234.7,223.7 235.4,224.0 236.1,224.2 236.8,224.5 237.5,224.8 238.2,225.1 238.9,225.4 239.5,225.6 240.2,225.9 240.9,226.2 241.6,226.4 242.3,226.7 243.0,227.0 243.7,227.2 244.4,227.5 245.1,227.7 245.8,227.9 246.5,228.2 247.2,228.4 247.9,228.6 248.6,228.9 249.2,229.1 249.9,229.3 250.6,229.5 251.3,229.7 252.0,229.9" fill="none" stroke="#5a93b8" stroke-width="0.85" stroke-opacity="1.0" stroke-linejoin="round"/>
<polyline points="239.5,227.0 240.2,227.1 240.9,227.1 241.6,227.2 242.3,227.2 243.0,227.2 243.7,227.1 244.4,227.0 245.1,226.9 245.8,226.7 246.5,226.4 247.2,226.1 247.9,225.7 248.6,225.3 249.2,224.8 249.9,224.3 250.6,223.7 251.3,223.2 252.0,222.6 252.7,222.1 253.4,221.7 254.1,221.4 254.8,221.3 255.5,221.2 256.2,221.3 256.9,221.6 257.6,222.0 258.2,222.5 258.9,223.2 259.6,224.1 260.3,225.0 261.0,226.0 261.7,227.0 262.4,228.0 263.1,229.0 263.8,230.0 264.5,230.9 265.2,231.8 265.9,232.6 266.6,233.4 267.3,234.0 267.9,234.6 268.6,235.2 269.3,235.7 270.0,236.1 270.7,236.6 271.4,236.9 272.1,237.3 272.8,237.6 273.5,237.9" fill="none" stroke="#cc3333" stroke-width="0.85" stroke-opacity="1.0" stroke-linejoin="round"/>
<polyline points="249.9,229.3 250.6,229.5 251.3,229.6 252.0,229.7 252.7,229.7 253.4,229.7 254.1,229.7 254.8,229.5 255.5,229.2 256.2,228.8 256.9,228.3 257.6,227.6 258.2,226.8 258.9,225.7 259.6,224.5 260.3,223.1 261.0,221.6 261.7,220.0 262.4,218.2 263.1,216.5 263.8,214.8 264.5,213.2 265.2,211.8 265.9,210.6 266.6,209.7 267.3,209.3 267.9,209.2 268.6,209.5 269.3,210.3 270.0,211.4 270.7,212.9 271.4,214.7 272.1,216.8 272.8,218.9 273.5,221.2 274.2,223.5 274.9,225.7 275.6,227.8 276.3,229.8 277.0,231.6 277.6,233.2 278.3,234.6 279.0,235.8 279.7,236.9 280.4,237.8 281.1,238.5 281.8,239.1 282.5,239.6 283.2,240.0 283.9,240.4 284.6,240.6 285.3,240.9 286.0,241.1 286.7,241.3" fill="none" stroke="#cc3333" stroke-width="0.85" stroke-opacity="1.0" stroke-linejoin="round"/>
<polyline points="262.4,233.3 263.1,233.5 263.8,233.8 264.5,234.0 265.2,234.3 265.9,234.5 266.6,234.8 267.3,235.0 267.9,235.2 268.6,235.4 269.3,235.5 270.0,235.7 270.7,235.8 271.4,235.8 272.1,235.9 272.8,235.9 273.5,235.9 274.2,235.8 274.9,235.7 275.6,235.5 276.3,235.3 277.0,235.0 277.6,234.7 278.3,234.4 279.0,234.0 279.7,233.6 280.4,233.1 281.1,232.7 281.8,232.2 282.5,231.7 283.2,231.2 283.9,230.7 284.6,230.2 285.3,229.8 286.0,229.3 286.7,228.9 287.3,228.6 288.0,228.3 288.7,228.1 289.4,227.9 290.1,227.8 290.8,227.8 291.5,227.9 292.2,228.0 292.9,228.2 293.6,228.6 294.3,229.0 295.0,229.4 295.7,230.0 296.3,230.6 297.0,231.2 297.7,231.9 298.4,232.7 299.1,233.4 299.8,234.2 300.5,235.0 301.2,235.9 301.9,236.7 302.6,237.5 303.3,238.3 304.0,239.1 304.7,239.8 305.4,240.6 306.0,241.3 306.7,241.9 307.4,242.6 308.1,243.2 308.8,243.8 309.5,244.3 310.2,244.8 310.9,245.3 311.6,245.8 312.3,246.2 313.0,246.6 313.7,247.0 314.4,247.4 315.1,247.8 315.7,248.1 316.4,248.4 317.1,248.8 317.8,249.1 318.5,249.5 319.2,249.8 319.9,250.2 320.6,250.5 321.3,250.9 322.0,251.3" fill="none" stroke="#5a93b8" stroke-width="0.85" stroke-opacity="1.0" stroke-linejoin="round"/>
<polyline points="297.0,243.6 297.7,243.8 298.4,243.9 299.1,244.0 299.8,244.1 300.5,244.2 301.2,244.2 301.9,244.3 302.6,244.3 303.3,244.3 304.0,244.2 304.7,244.1 305.4,244.0 306.0,243.7 306.7,243.5 307.4,243.1 308.1,242.7 308.8,242.2 309.5,241.6 310.2,240.9 310.9,240.1 311.6,239.1 312.3,238.1 313.0,237.0 313.7,235.7 314.4,234.3 315.1,232.9 315.7,231.3 316.4,229.6 317.1,227.9 317.8,226.2 318.5,224.5 319.2,222.7 319.9,221.0 320.6,219.4 321.3,217.8 322.0,216.3 322.7,215.0 323.4,213.9 324.1,213.0 324.7,212.2 325.4,211.7 326.1,211.5 326.8,211.5 327.5,211.8 328.2,212.3 328.9,213.1 329.6,214.2 330.3,215.5 331.0,217.0 331.7,218.7 332.4,220.6 333.1,222.7 333.8,224.9 334.4,227.2 335.1,229.5 335.8,231.9 336.5,234.4 337.2,236.8 337.9,239.1 338.6,241.4 339.3,243.7 340.0,245.8 340.7,247.9 341.4,249.9 342.1,251.7 342.8,253.4 343.5,255.0 344.1,256.5 344.8,257.9 345.5,259.1 346.2,260.3 346.9,261.4 347.6,262.3 348.3,263.2" fill="none" stroke="#cc3333" stroke-width="0.85" stroke-opacity="1.0" stroke-linejoin="round"/>
<polyline points="323.4,251.9 324.1,252.2 324.7,252.4 325.4,252.5 326.1,252.4 326.8,252.1 327.5,251.5 328.2,250.6 328.9,249.3 329.6,247.6 330.3,245.5 331.0,243.0 331.7,240.5 332.4,237.9 333.1,235.6 333.8,233.8 334.4,232.8 335.1,232.6 335.8,233.3 336.5,234.9 337.2,237.2 337.9,240.1 338.6,243.4 339.3,246.7 340.0,250.0 340.7,252.9 341.4,255.5 342.1,257.7 342.8,259.5 343.5,260.9 344.1,262.1 344.8,263.0 345.5,263.7 346.2,264.3 346.9,264.8 347.6,265.2" fill="none" stroke="#9e2a2a" stroke-width="0.85" stroke-opacity="1.0" stroke-linejoin="round"/>
<polyline points="196.6,223.7 197.3,223.8 198.0,223.8 198.7,223.9 199.4,223.9 200.1,224.0 200.8,224.0 201.4,224.1 202.1,224.1 202.8,224.1 203.5,224.1 204.2,224.1 204.9,224.1 205.6,224.0 206.3,224.0 207.0,223.9 207.7,223.8 208.4,223.7 209.1,223.6 209.8,223.5 210.5,223.3 211.1,223.2 211.8,223.0 212.5,222.8 213.2,222.7 213.9,222.5 214.6,222.3 215.3,222.1 216.0,221.9 216.7,221.7 217.4,221.5 218.1,221.4 218.8,221.2 219.5,221.1 220.2,220.9 220.8,220.8 221.5,220.7 222.2,220.7 222.9,220.6 223.6,220.6 224.3,220.7 225.0,220.7 225.7,220.8 226.4,220.9 227.1,221.0 227.8,221.2 228.5,221.4 229.2,221.6 229.8,221.8 230.5,222.0 231.2,222.3 231.9,222.6 232.6,222.8 233.3,223.1 234.0,223.4 234.7,223.7 235.4,224.0 236.1,224.2 236.8,224.5 237.5,224.8 238.2,225.0 238.9,225.3 239.5,225.5 240.2,225.8 240.9,226.0 241.6,226.1 242.3,226.3 243.0,226.4 243.7,226.4 244.4,226.4 245.1,226.4 245.8,226.3 246.5,226.1 247.2,225.8 247.9,225.4 248.6,225.0 249.2,224.6 249.9,224.0 250.6,223.4 251.3,222.8 252.0,222.2 252.7,221.6 253.4,221.0 254.1,220.4 254.8,219.9 255.5,219.4 256.2,218.9 256.9,218.4 257.6,217.9 258.2,217.4 258.9,216.9 259.6,216.2 260.3,215.5 261.0,214.7 261.7,213.8 262.4,212.8 263.1,211.7 263.8,210.7 264.5,209.7 265.2,208.8 265.9,208.1 266.6,207.6 267.3,207.4 267.9,207.5 268.6,208.0 269.3,208.9 270.0,210.0 270.7,211.5 271.4,213.2 272.1,215.0 272.8,217.0 273.5,219.0 274.2,221.0 274.9,222.9 275.6,224.6 276.3,226.2 277.0,227.5 277.6,228.6 278.3,229.5 279.0,230.2 279.7,230.6 280.4,230.9 281.1,231.0 281.8,230.9 282.5,230.8 283.2,230.5 283.9,230.2 284.6,229.9 285.3,229.5 286.0,229.2 286.7,228.8 287.3,228.5 288.0,228.3 288.7,228.0 289.4,227.9 290.1,227.8 290.8,227.8 291.5,227.9 292.2,228.0 292.9,228.2 293.6,228.5 294.3,228.9 295.0,229.4 295.7,229.9 296.3,230.5 297.0,231.1 297.7,231.8 298.4,232.5 299.1,233.2 299.8,233.9 300.5,234.7 301.2,235.4 301.9,236.1 302.6,236.7 303.3,237.4 304.0,237.9 304.7,238.4 305.4,238.8 306.0,239.1 306.7,239.4 307.4,239.5 308.1,239.5 308.8,239.4 309.5,239.1 310.2,238.8 310.9,238.2 311.6,237.6 312.3,236.8 313.0,235.8 313.7,234.7 314.4,233.5 315.1,232.2 315.7,230.7 316.4,229.2 317.1,227.6 317.8,225.9 318.5,224.2 319.2,222.5 319.9,220.8 320.6,219.2 321.3,217.7 322.0,216.2 322.7,214.9 323.4,213.7 324.1,212.7 324.7,211.8 325.4,211.0 326.1,210.3 326.8,209.6 327.5,208.9 328.2,208.2 328.9,207.3 329.6,206.2 330.3,205.0 331.0,203.8 331.7,202.5 332.4,201.5 333.1,200.9 333.8,201.0 334.4,201.8 335.1,203.6 335.8,206.3 336.5,210.0 337.2,214.4 337.9,219.3 338.6,224.5 339.3,229.7 340.0,234.7 340.7,239.3 341.4,243.5 342.1,247.1 342.8,250.3 343.5,252.9 344.1,255.2 344.8,257.0 345.5,258.6 346.2,260.0 346.9,261.2 347.6,262.2 348.3,263.2" fill="none" stroke="#6e6e6e" stroke-width="0.95" stroke-opacity="1.0" stroke-linejoin="round"/>
<polyline points="196.6,218.2 197.1,218.0 197.6,218.0 198.1,218.2 198.6,218.7 199.1,218.0 199.6,218.8 200.2,218.4 200.7,218.2 201.2,217.7 201.7,218.4 202.2,218.5 202.7,217.4 203.2,218.7 203.7,218.8 204.2,218.2 204.7,218.2 205.2,219.0 205.7,218.4 206.2,217.4 206.7,217.7 207.3,217.5 207.8,217.4 208.3,216.3 208.8,217.6 209.3,216.9 209.8,217.1 210.3,216.8 210.8,217.1 211.3,216.5 211.8,216.1 212.3,216.5 212.8,216.7 213.3,215.8 213.9,216.4 214.4,215.7 214.9,215.2 215.4,216.0 215.9,214.7 216.4,215.4 216.9,214.6 217.4,214.8 217.9,213.9 218.4,213.9 218.9,214.7 219.4,214.1 219.9,214.0 220.4,213.6 221.0,213.9 221.5,213.0 222.0,213.1 222.5,213.5 223.0,213.1 223.5,213.2 224.0,213.4 224.5,213.4 225.0,213.4 225.5,214.3 226.0,214.0 226.5,214.2 227.0,213.7 227.5,213.6 228.1,213.3 228.6,213.9 229.1,213.3 229.6,214.1 230.1,214.9 230.6,215.4 231.1,215.3 231.6,214.7 232.1,215.5 232.6,215.1 233.1,216.0 233.6,215.8 234.1,216.4 234.7,217.4 235.2,216.9 235.7,217.7 236.2,216.9 236.7,216.9 237.2,217.8 237.7,218.2 238.2,217.4 238.7,217.9 239.2,217.4 239.7,218.1 240.2,218.8 240.7,218.5 241.2,218.4 241.8,218.2 242.3,219.1 242.8,219.4 243.3,219.4 243.8,219.3 244.3,218.6 244.8,220.0 245.3,219.1 245.8,219.0 246.3,219.3 246.8,217.8 247.3,218.6 247.8,218.3 248.4,218.3 248.9,218.4 249.4,217.7 249.9,216.3 250.4,216.5 250.9,216.4 251.4,215.9 251.9,214.9 252.4,214.3 252.9,214.8 253.4,214.4 253.9,213.8 254.4,212.7 254.9,213.9 255.5,211.4 256.0,212.3 256.5,213.0 257.0,211.7 257.5,211.6 258.0,210.6 258.5,211.4 259.0,209.8 259.5,210.0 260.0,209.5 260.5,208.4 261.0,208.7 261.5,207.1 262.0,206.7 262.6,206.3 263.1,205.4 263.6,205.0 264.1,204.5 264.6,203.3 265.1,202.5 265.6,202.0 266.1,201.7 266.6,201.9 267.1,201.3 267.6,201.7 268.1,201.7 268.6,201.7 269.2,203.1 269.7,203.0 270.2,204.4 270.7,206.2 271.2,206.3 271.7,208.1 272.2,208.8 272.7,210.7 273.2,211.7 273.7,213.7 274.2,215.1 274.7,216.8 275.2,218.8 275.7,219.4 276.3,220.7 276.8,221.4 277.3,222.2 277.8,222.7 278.3,222.9 278.8,224.2 279.3,225.3 279.8,225.0 280.3,224.8 280.8,225.8 281.3,224.9 281.8,224.7 282.3,224.3 282.9,224.3 283.4,224.4 283.9,225.1 284.4,223.8 284.9,223.2 285.4,223.1 285.9,222.9 286.4,222.0 286.9,222.5 287.4,222.5 287.9,222.1 288.4,222.0 288.9,221.0 289.4,220.6 290.0,221.8 290.5,221.7 291.0,220.4 291.5,221.2 292.0,221.2 292.5,221.5 293.0,221.5 293.5,221.3 294.0,221.9 294.5,222.1 295.0,222.3 295.5,221.8 296.0,221.6 296.5,223.0 297.1,223.0 297.6,224.3 298.1,225.0 298.6,225.2 299.1,225.4 299.6,226.1 300.1,227.1 300.6,226.7 301.1,227.9 301.6,228.3 302.1,228.5 302.6,229.5 303.1,228.9 303.7,230.0 304.2,229.5 304.7,229.9 305.2,230.0 305.7,230.9 306.2,230.5 306.7,231.0 307.2,230.5 307.7,231.5 308.2,231.8 308.7,231.0 309.2,231.4 309.7,230.7 310.2,231.1 310.8,229.7 311.3,228.5 311.8,229.3 312.3,228.0 312.8,226.9 313.3,226.3 313.8,225.0 314.3,224.7 314.8,223.4 315.3,223.5 315.8,222.0 316.3,219.8 316.8,218.7 317.4,218.0 317.9,216.1 318.4,215.7 318.9,214.5 319.4,213.0 319.9,211.9 320.4,211.2 320.9,210.5 321.4,209.5 321.9,207.8 322.4,207.2 322.9,205.7 323.4,205.4 323.9,204.1 324.5,204.2 325.0,202.8 325.5,202.4 326.0,202.4 326.5,202.2 327.0,200.9 327.5,200.9 328.0,200.7 328.5,200.3 329.0,199.2 329.5,198.9 330.0,198.0 330.5,198.0 331.0,196.8 331.6,195.1 332.1,194.1 332.6,194.6 333.1,194.8 333.6,194.5 334.1,195.3 334.6,195.7 335.1,196.7 335.6,199.8 336.1,202.0 336.6,205.2 337.1,207.6 337.6,212.0 338.2,215.5 338.7,220.0 339.2,223.4 339.7,227.2 340.2,231.0 340.7,235.3 341.2,238.0 341.7,240.6 342.2,243.2 342.7,245.6 343.2,248.9 343.7,249.3 344.2,251.5 344.7,253.7 345.3,255.3 345.8,256.0 346.3,257.6 346.8,258.6 347.3,259.7 347.8,260.2 348.3,261.8" fill="none" stroke="#1a1a1a" stroke-width="0.98" stroke-opacity="1.0" stroke-linejoin="round"/>
</g>
<line x1="227.70" y1="202.50" x2="227.70" y2="219.70" stroke="#5a93b8" stroke-width="0.75" stroke-opacity="1.0"/>
<polygon points="227.70,222.50 226.49,219.20 228.91,219.20" fill="#5a93b8" fill-opacity="1.0"/>
<line x1="236.30" y1="202.50" x2="297.52" y2="234.70" stroke="#5a93b8" stroke-width="0.75" stroke-opacity="1.0"/>
<polygon points="300.00,236.00 296.52,235.53 297.64,233.39" fill="#5a93b8" fill-opacity="1.0"/>
<line x1="262.10" y1="180.40" x2="241.39" y2="216.57" stroke="#f6b0b4" stroke-width="0.75" stroke-opacity="1.0"/>
<polygon points="240.00,219.00 240.59,215.53 242.69,216.74" fill="#f6b0b4" fill-opacity="1.0"/>
<line x1="270.00" y1="179.30" x2="323.96" y2="247.11" stroke="#f6b0b4" stroke-width="0.75" stroke-opacity="1.0"/>
<polygon points="325.70,249.30 322.70,247.47 324.59,245.96" fill="#f6b0b4" fill-opacity="1.0"/>
<line x1="325.70" y1="171.60" x2="258.00" y2="218.90" stroke="#9e2a2a" stroke-width="0.75" stroke-opacity="1.0"/>
<polygon points="255.70,220.50 257.71,217.62 259.10,219.60" fill="#9e2a2a" fill-opacity="1.0"/>
<line x1="332.60" y1="172.00" x2="332.60" y2="235.00" stroke="#9e2a2a" stroke-width="0.75" stroke-opacity="1.0"/>
<polygon points="332.60,237.80 331.39,234.50 333.81,234.50" fill="#9e2a2a" fill-opacity="1.0"/>
<line x1="306.40" y1="197.10" x2="262.53" y2="217.80" stroke="#cc3333" stroke-width="0.75" stroke-opacity="1.0"/>
<polygon points="260.00,219.00 262.47,216.50 263.50,218.69" fill="#cc3333" fill-opacity="1.0"/>
<line x1="310.30" y1="198.00" x2="318.72" y2="218.12" stroke="#cc3333" stroke-width="0.75" stroke-opacity="1.0"/>
<polygon points="319.80,220.70 317.41,218.12 319.64,217.19" fill="#cc3333" fill-opacity="1.0"/>
<text x="179.60" y="163.55" font-size="12.00" fill="#111" stroke="#111" stroke-width="0.2">(e)</text>
<text x="199.59" y="163.91" font-size="7.80" fill="#111" stroke="#111" stroke-width="0.2" textLength="18.83" lengthAdjust="spacing">Fe 2p</text>
<text x="213.99" y="198.05" font-size="7.74" fill="#111" stroke="#111" stroke-width="0.2">plasmons</text>
<text x="258.11" y="176.33" font-size="7.45" fill="#111" stroke="#111" stroke-width="0.2">Fe</text>
<text x="267.39" y="172.84" font-size="5.00" fill="#111" stroke="#111" stroke-width="0.15">3+</text>
<text x="272.84" y="178.45" font-size="5.00" fill="#111" stroke="#111" stroke-width="0.15">tet</text>
<text x="315.81" y="167.73" font-size="7.45" fill="#111" stroke="#111" stroke-width="0.2">Fe</text>
<text x="325.03" y="164.30" font-size="5.00" fill="#111" stroke="#111" stroke-width="0.15">2+</text>
<text x="330.41" y="169.85" font-size="5.00" fill="#111" stroke="#111" stroke-width="0.15">oct</text>
<text x="303.11" y="196.43" font-size="7.45" fill="#111" stroke="#111" stroke-width="0.2">Fe</text>
<text x="312.39" y="192.94" font-size="5.00" fill="#111" stroke="#111" stroke-width="0.15">3+</text>
<text x="317.71" y="198.55" font-size="5.00" fill="#111" stroke="#111" stroke-width="0.15">oct</text>
<rect x="196.60" y="307.30" width="151.70" height="122.00" fill="none" stroke="#151515" stroke-width="1.25"/>
<line x1="211.28" y1="429.30" x2="211.28" y2="427.00" stroke="#222" stroke-width="0.9" stroke-opacity="1.0"/>
<line x1="235.75" y1="429.30" x2="235.75" y2="427.00" stroke="#222" stroke-width="0.9" stroke-opacity="1.0"/>
<line x1="260.22" y1="429.30" x2="260.22" y2="427.00" stroke="#222" stroke-width="0.9" stroke-opacity="1.0"/>
<line x1="284.68" y1="429.30" x2="284.68" y2="427.00" stroke="#222" stroke-width="0.9" stroke-opacity="1.0"/>
<line x1="309.15" y1="429.30" x2="309.15" y2="427.00" stroke="#222" stroke-width="0.9" stroke-opacity="1.0"/>
<line x1="333.62" y1="429.30" x2="333.62" y2="427.00" stroke="#222" stroke-width="0.9" stroke-opacity="1.0"/>
<line x1="199.05" y1="429.30" x2="199.05" y2="427.80" stroke="#222" stroke-width="0.8" stroke-opacity="1.0"/>
<line x1="223.51" y1="429.30" x2="223.51" y2="427.80" stroke="#222" stroke-width="0.8" stroke-opacity="1.0"/>
<line x1="247.98" y1="429.30" x2="247.98" y2="427.80" stroke="#222" stroke-width="0.8" stroke-opacity="1.0"/>
<line x1="272.45" y1="429.30" x2="272.45" y2="427.80" stroke="#222" stroke-width="0.8" stroke-opacity="1.0"/>
<line x1="296.92" y1="429.30" x2="296.92" y2="427.80" stroke="#222" stroke-width="0.8" stroke-opacity="1.0"/>
<line x1="321.39" y1="429.30" x2="321.39" y2="427.80" stroke="#222" stroke-width="0.8" stroke-opacity="1.0"/>
<line x1="345.85" y1="429.30" x2="345.85" y2="427.80" stroke="#222" stroke-width="0.8" stroke-opacity="1.0"/>
<text x="203.39" y="438.75" font-size="9.5" fill="#111" stroke="#111" stroke-width="0.2">735</text>
<text x="227.92" y="438.75" font-size="9.5" fill="#111" stroke="#111" stroke-width="0.2">730</text>
<text x="252.33" y="438.75" font-size="9.5" fill="#111" stroke="#111" stroke-width="0.2">725</text>
<text x="276.85" y="438.75" font-size="9.5" fill="#111" stroke="#111" stroke-width="0.2">720</text>
<text x="301.26" y="438.75" font-size="9.5" fill="#111" stroke="#111" stroke-width="0.2">715</text>
<text x="325.79" y="438.75" font-size="9.5" fill="#111" stroke="#111" stroke-width="0.2">710</text>
<text x="225.50" y="449.80" font-size="9.85" fill="#111" stroke="#111" stroke-width="0.2">Binding Energy (eV)</text>
<text x="0" y="0" font-size="9.9" text-anchor="middle" fill="#111" stroke="#111" stroke-width="0.2" transform="translate(190.20,368.10) rotate(-90)">Intensity (a. u.)</text>
<clipPath id="c12"><rect x="197.20" y="307.90" width="150.50" height="120.80"/></clipPath>
<g clip-path="url(#c12)">
<polyline points="196.6,373.3 197.3,373.3 198.0,373.2 198.7,373.2 199.4,373.1 200.1,373.1 200.8,373.0 201.4,373.0 202.1,372.9 202.8,372.9 203.5,372.8 204.2,372.8 204.9,372.7 205.6,372.7 206.3,372.6 207.0,372.6 207.7,372.6 208.4,372.5 209.1,372.5 209.8,372.5 210.5,372.4 211.1,372.4 211.8,372.4 212.5,372.4 213.2,372.3 213.9,372.3 214.6,372.3 215.3,372.3 216.0,372.3 216.7,372.3 217.4,372.3 218.1,372.3 218.8,372.3 219.5,372.3 220.2,372.3 220.8,372.3 221.5,372.3 222.2,372.3 222.9,372.3 223.6,372.3 224.3,372.3 225.0,372.3 225.7,372.3 226.4,372.3 227.1,372.3 227.8,372.3 228.5,372.3 229.2,372.3 229.8,372.3 230.5,372.3 231.2,372.3 231.9,372.3 232.6,372.3 233.3,372.3 234.0,372.3 234.7,372.3 235.4,372.3 236.1,372.3 236.8,372.3 237.5,372.3 238.2,372.4 238.9,372.5 239.5,372.6 240.2,372.7 240.9,372.9 241.6,373.1 242.3,373.3 243.0,373.5 243.7,373.8 244.4,374.1 245.1,374.3 245.8,374.6 246.5,374.9 247.2,375.2 247.9,375.5 248.6,375.8 249.2,376.2 249.9,376.5 250.6,376.8 251.3,377.1 252.0,377.4 252.7,377.7 253.4,378.0 254.1,378.3 254.8,378.6 255.5,378.8 256.2,379.1 256.9,379.3 257.6,379.5 258.2,379.7 258.9,379.9 259.6,380.1 260.3,380.4 261.0,380.6 261.7,380.8 262.4,381.0 263.1,381.2 263.8,381.4 264.5,381.6 265.2,381.8 265.9,382.0 266.6,382.2 267.3,382.4 267.9,382.6 268.6,382.8 269.3,383.0 270.0,383.2 270.7,383.4 271.4,383.6 272.1,383.8 272.8,384.0 273.5,384.2 274.2,384.3 274.9,384.5 275.6,384.7 276.3,384.9 277.0,385.0 277.6,385.2 278.3,385.4 279.0,385.5 279.7,385.7 280.4,385.9 281.1,386.0 281.8,386.2 282.5,386.3 283.2,386.5 283.9,386.6 284.6,386.8 285.3,386.9 286.0,387.1 286.7,387.2 287.3,387.4 288.0,387.5 288.7,387.7 289.4,387.8 290.1,388.0 290.8,388.1 291.5,388.3 292.2,388.4 292.9,388.5 293.6,388.7 294.3,388.8 295.0,389.0 295.7,389.1 296.3,389.3 297.0,389.4 297.7,389.6 298.4,389.7 299.1,389.8 299.8,390.0 300.5,390.1 301.2,390.2 301.9,390.4 302.6,390.5 303.3,390.6 304.0,390.7 304.7,390.9 305.4,391.0 306.0,391.1 306.7,391.3 307.4,391.4 308.1,391.5 308.8,391.7 309.5,391.8 310.2,391.9 310.9,392.1 311.6,392.3 312.3,392.4 313.0,392.6 313.7,392.8 314.4,392.9 315.1,393.1 315.7,393.3 316.4,393.5 317.1,393.7 317.8,394.0 318.5,394.2 319.2,394.5 319.9,394.8 320.6,395.1 321.3,395.4 322.0,395.8 322.7,396.1 323.4,396.5 324.1,396.8 324.7,397.2 325.4,397.6 326.1,398.0 326.8,398.4 327.5,398.7 328.2,399.1 328.9,399.5 329.6,399.9 330.3,400.3 331.0,400.7 331.7,401.1 332.4,401.5 333.1,401.9 333.8,402.3 334.4,402.7 335.1,403.1 335.8,403.5 336.5,403.9 337.2,404.3 337.9,404.7 338.6,405.2 339.3,405.6 340.0,406.0 340.7,406.5 341.4,406.9 342.1,407.3 342.8,407.8 343.5,408.2 344.1,408.7 344.8,409.2 345.5,409.6 346.2,410.1 346.9,410.6 347.6,411.0 348.3,411.5" fill="none" stroke="#5a93b8" stroke-width="0.7" stroke-opacity="1.0" stroke-linejoin="round"/>
<polyline points="196.6,372.8 197.3,372.8 198.0,372.7 198.7,372.7 199.4,372.6 200.1,372.6 200.8,372.5 201.4,372.5 202.1,372.4 202.8,372.4 203.5,372.3 204.2,372.3 204.9,372.2 205.6,372.2 206.3,372.1 207.0,372.1 207.7,372.1 208.4,372.0 209.1,372.0 209.8,372.0 210.5,371.9 211.1,371.9 211.8,371.9 212.5,371.9 213.2,371.8 213.9,371.8 214.6,371.8 215.3,371.8 216.0,371.8 216.7,371.8 217.4,371.8 218.1,371.8 218.8,371.8 219.5,371.8 220.2,371.8 220.8,371.8 221.5,371.8 222.2,371.8 222.9,371.8 223.6,371.8 224.3,371.8 225.0,371.8 225.7,371.8 226.4,371.8 227.1,371.8 227.8,371.8 228.5,371.8 229.2,371.8 229.8,371.8 230.5,371.8 231.2,371.8 231.9,371.8 232.6,371.8 233.3,371.8 234.0,371.8 234.7,371.8 235.4,371.8 236.1,371.8 236.8,371.8 237.5,371.8 238.2,371.9 238.9,372.0 239.5,372.1 240.2,372.2 240.9,372.4 241.6,372.6 242.3,372.8 243.0,373.0 243.7,373.3 244.4,373.6 245.1,373.8 245.8,374.1 246.5,374.4 247.2,374.7 247.9,375.0 248.6,375.3 249.2,375.7 249.9,376.0 250.6,376.3 251.3,376.6 252.0,376.9 252.7,377.2 253.4,377.5 254.1,377.8 254.8,378.1 255.5,378.3 256.2,378.6 256.9,378.8 257.6,379.0 258.2,379.2 258.9,379.4 259.6,379.6 260.3,379.9 261.0,380.1 261.7,380.3 262.4,380.5 263.1,380.7 263.8,380.9 264.5,381.1 265.2,381.3 265.9,381.5 266.6,381.7 267.3,381.9 267.9,382.1 268.6,382.3 269.3,382.5 270.0,382.7 270.7,382.9 271.4,383.1 272.1,383.3 272.8,383.5 273.5,383.7 274.2,383.8 274.9,384.0 275.6,384.2 276.3,384.4 277.0,384.5 277.6,384.7 278.3,384.9 279.0,385.0 279.7,385.2 280.4,385.4 281.1,385.5 281.8,385.7 282.5,385.8 283.2,386.0 283.9,386.1 284.6,386.3 285.3,386.4 286.0,386.6 286.7,386.7 287.3,386.9 288.0,387.0 288.7,387.2 289.4,387.3 290.1,387.5 290.8,387.6 291.5,387.8 292.2,387.9 292.9,388.0 293.6,388.2 294.3,388.3 295.0,388.5 295.7,388.6 296.3,388.8 297.0,388.9 297.7,389.1 298.4,389.2 299.1,389.3 299.8,389.5 300.5,389.6 301.2,389.7 301.9,389.9 302.6,390.0 303.3,390.1 304.0,390.2 304.7,390.4 305.4,390.5 306.0,390.6 306.7,390.8 307.4,390.9 308.1,391.0 308.8,391.2 309.5,391.3 310.2,391.4 310.9,391.6 311.6,391.8 312.3,391.9 313.0,392.1 313.7,392.3 314.4,392.4 315.1,392.6 315.7,392.8 316.4,393.0 317.1,393.2 317.8,393.5 318.5,393.7 319.2,394.0 319.9,394.3 320.6,394.6 321.3,394.9 322.0,395.3 322.7,395.6 323.4,396.0 324.1,396.3 324.7,396.7 325.4,397.1 326.1,397.5 326.8,397.9 327.5,398.2 328.2,398.6 328.9,399.0 329.6,399.4 330.3,399.8 331.0,400.2 331.7,400.6 332.4,401.0 333.1,401.4 333.8,401.8 334.4,402.2 335.1,402.6 335.8,403.0 336.5,403.4 337.2,403.8 337.9,404.2 338.6,404.7 339.3,405.1 340.0,405.5 340.7,406.0 341.4,406.4 342.1,406.8 342.8,407.3 343.5,407.7 344.1,408.2 344.8,408.7 345.5,409.1 346.2,409.6 346.9,410.1 347.6,410.5 348.3,411.0" fill="none" stroke="#74e074" stroke-width="1.3" stroke-opacity="1.0" stroke-linejoin="round"/>
<polyline points="210.5,371.8 211.1,371.8 211.8,371.7 212.5,371.6 213.2,371.5 213.9,371.3 214.6,371.1 215.3,371.0 216.0,370.7 216.7,370.5 217.4,370.2 218.1,370.0 218.8,369.7 219.5,369.3 220.2,369.0 220.8,368.8 221.5,368.5 222.2,368.3 222.9,368.1 223.6,368.0 224.3,368.0 225.0,368.0 225.7,368.1 226.4,368.3 227.1,368.5 227.8,368.7 228.5,369.0 229.2,369.3 229.8,369.6 230.5,369.9 231.2,370.2 231.9,370.5 232.6,370.7 233.3,370.9 234.0,371.1 234.7,371.3 235.4,371.4 236.1,371.5 236.8,371.6 237.5,371.7 238.2,371.8 238.9,371.9" fill="none" stroke="#5a93b8" stroke-width="0.85" stroke-opacity="1.0" stroke-linejoin="round"/>
<polyline points="234.0,371.7 234.7,371.7 235.4,371.6 236.1,371.6 236.8,371.5 237.5,371.4 238.2,371.3 238.9,371.2 239.5,371.2 240.2,371.0 240.9,370.9 241.6,370.8 242.3,370.6 243.0,370.4 243.7,370.1 244.4,369.8 245.1,369.4 245.8,369.1 246.5,368.7 247.2,368.2 247.9,367.8 248.6,367.4 249.2,367.0 249.9,366.7 250.6,366.4 251.3,366.2 252.0,366.1 252.7,366.1 253.4,366.2 254.1,366.4 254.8,366.8 255.5,367.2 256.2,367.8 256.9,368.4 257.6,369.1 258.2,370.0 258.9,370.8 259.6,371.8 260.3,372.7 261.0,373.6 261.7,374.6 262.4,375.5 263.1,376.4 263.8,377.2 264.5,378.0 265.2,378.7 265.9,379.3 266.6,379.9 267.3,380.5 267.9,381.0 268.6,381.4 269.3,381.8 270.0,382.2 270.7,382.5 271.4,382.8 272.1,383.0 272.8,383.3 273.5,383.5 274.2,383.7" fill="none" stroke="#3fa03f" stroke-width="0.85" stroke-opacity="1.0" stroke-linejoin="round"/>
<polyline points="245.8,374.0 246.5,374.3 247.2,374.5 247.9,374.8 248.6,375.0 249.2,375.2 249.9,375.4 250.6,375.5 251.3,375.5 252.0,375.5 252.7,375.4 253.4,375.2 254.1,374.9 254.8,374.4 255.5,373.9 256.2,373.1 256.9,372.2 257.6,371.2 258.2,370.1 258.9,368.8 259.6,367.4 260.3,365.9 261.0,364.4 261.7,362.8 262.4,361.3 263.1,359.8 263.8,358.4 264.5,357.2 265.2,356.1 265.9,355.3 266.6,354.7 267.3,354.4 267.9,354.4 268.6,354.7 269.3,355.3 270.0,356.3 270.7,357.4 271.4,358.8 272.1,360.4 272.8,362.2 273.5,364.0 274.2,366.0 274.9,367.9 275.6,369.9 276.3,371.7 277.0,373.5 277.6,375.2 278.3,376.8 279.0,378.2 279.7,379.5 280.4,380.7 281.1,381.7 281.8,382.6 282.5,383.4 283.2,384.1 283.9,384.6 284.6,385.1 285.3,385.6 286.0,385.9 286.7,386.2 287.3,386.5 288.0,386.8 288.7,387.0 289.4,387.2 290.1,387.4" fill="none" stroke="#2a7a2a" stroke-width="0.85" stroke-opacity="1.0" stroke-linejoin="round"/>
<polyline points="265.2,381.2 265.9,381.4 266.6,381.6 267.3,381.7 267.9,381.9 268.6,382.0 269.3,382.1 270.0,382.2 270.7,382.3 271.4,382.3 272.1,382.3 272.8,382.3 273.5,382.2 274.2,382.1 274.9,382.0 275.6,381.8 276.3,381.5 277.0,381.2 277.6,380.9 278.3,380.5 279.0,380.0 279.7,379.5 280.4,379.0 281.1,378.4 281.8,377.8 282.5,377.2 283.2,376.6 283.9,376.0 284.6,375.4 285.3,374.9 286.0,374.4 286.7,374.0 287.3,373.6 288.0,373.4 288.7,373.2 289.4,373.1 290.1,373.2 290.8,373.3 291.5,373.6 292.2,373.9 292.9,374.4 293.6,374.9 294.3,375.6 295.0,376.3 295.7,377.1 296.3,377.9 297.0,378.8 297.7,379.7 298.4,380.6 299.1,381.5 299.8,382.4 300.5,383.2 301.2,384.0 301.9,384.8 302.6,385.6 303.3,386.3 304.0,386.9 304.7,387.5 305.4,388.1 306.0,388.6 306.7,389.0 307.4,389.5 308.1,389.8 308.8,390.2 309.5,390.5 310.2,390.8 310.9,391.1 311.6,391.3 312.3,391.6 313.0,391.8 313.7,392.1 314.4,392.3 315.1,392.5 315.7,392.7" fill="none" stroke="#5a93b8" stroke-width="0.85" stroke-opacity="1.0" stroke-linejoin="round"/>
<polyline points="290.8,387.5 291.5,387.6 292.2,387.7 292.9,387.8 293.6,387.8 294.3,387.9 295.0,387.8 295.7,387.8 296.3,387.7 297.0,387.5 297.7,387.3 298.4,387.0 299.1,386.7 299.8,386.3 300.5,385.8 301.2,385.3 301.9,384.7 302.6,384.1 303.3,383.5 304.0,382.9 304.7,382.4 305.4,381.9 306.0,381.5 306.7,381.2 307.4,381.0 308.1,381.0 308.8,381.1 309.5,381.3 310.2,381.7 310.9,382.3 311.6,382.9 312.3,383.6 313.0,384.5 313.7,385.3 314.4,386.2 315.1,387.1 315.7,388.1 316.4,388.9 317.1,389.8 317.8,390.6 318.5,391.4 319.2,392.1 319.9,392.8 320.6,393.4 321.3,394.0 322.0,394.5 322.7,395.1 323.4,395.6 324.1,396.0 324.7,396.5 325.4,396.9 326.1,397.4" fill="none" stroke="#3fa03f" stroke-width="0.85" stroke-opacity="1.0" stroke-linejoin="round"/>
<polyline points="303.3,390.0 304.0,390.1 304.7,390.2 305.4,390.2 306.0,390.2 306.7,390.2 307.4,390.1 308.1,390.0 308.8,389.8 309.5,389.6 310.2,389.3 310.9,388.8 311.6,388.3 312.3,387.6 313.0,386.8 313.7,385.8 314.4,384.8 315.1,383.5 315.7,382.2 316.4,380.7 317.1,379.1 317.8,377.4 318.5,375.8 319.2,374.1 319.9,372.5 320.6,371.0 321.3,369.7 322.0,368.6 322.7,367.7 323.4,367.1 324.1,366.8 324.7,366.8 325.4,367.2 326.1,367.9 326.8,369.0 327.5,370.3 328.2,372.0 328.9,373.8 329.6,375.9 330.3,378.1 331.0,380.4 331.7,382.7 332.4,385.0 333.1,387.3 333.8,389.4 334.4,391.5 335.1,393.5 335.8,395.3 336.5,397.0 337.2,398.6 337.9,399.9 338.6,401.2 339.3,402.3 340.0,403.3 340.7,404.3 341.4,405.1 342.1,405.8 342.8,406.5 343.5,407.2 344.1,407.8 344.8,408.4 345.5,408.9 346.2,409.4 346.9,410.0" fill="none" stroke="#3fa03f" stroke-width="0.85" stroke-opacity="1.0" stroke-linejoin="round"/>
<polyline points="315.7,392.7 316.4,392.9 317.1,393.0 317.8,393.1 318.5,393.2 319.2,393.2 319.9,393.2 320.6,393.1 321.3,392.8 322.0,392.4 322.7,391.8 323.4,391.0 324.1,389.9 324.7,388.5 325.4,386.9 326.1,384.9 326.8,382.6 327.5,380.1 328.2,377.3 328.9,374.3 329.6,371.2 330.3,368.1 331.0,365.2 331.7,362.5 332.4,360.1 333.1,358.2 333.8,356.9 334.4,356.3 335.1,356.3 335.8,357.0 336.5,358.5 337.2,360.6 337.9,363.3 338.6,366.4 339.3,370.0 340.0,373.7 340.7,377.6 341.4,381.6 342.1,385.4 342.8,389.0 343.5,392.4 344.1,395.6 344.8,398.4 345.5,400.9 346.2,403.1 346.9,405.0 347.6,406.7 348.3,408.1" fill="none" stroke="#2a7a2a" stroke-width="0.85" stroke-opacity="1.0" stroke-linejoin="round"/>
<polyline points="196.6,372.8 197.3,372.8 198.0,372.7 198.7,372.7 199.4,372.6 200.1,372.6 200.8,372.5 201.4,372.5 202.1,372.4 202.8,372.4 203.5,372.3 204.2,372.3 204.9,372.2 205.6,372.2 206.3,372.1 207.0,372.1 207.7,372.0 208.4,372.0 209.1,371.9 209.8,371.9 210.5,371.8 211.1,371.8 211.8,371.7 212.5,371.6 213.2,371.5 213.9,371.3 214.6,371.1 215.3,371.0 216.0,370.7 216.7,370.5 217.4,370.2 218.1,370.0 218.8,369.7 219.5,369.3 220.2,369.0 220.8,368.8 221.5,368.5 222.2,368.3 222.9,368.1 223.6,368.0 224.3,368.0 225.0,368.0 225.7,368.1 226.4,368.3 227.1,368.5 227.8,368.7 228.5,369.0 229.2,369.3 229.8,369.6 230.5,369.9 231.2,370.2 231.9,370.4 232.6,370.7 233.3,370.9 234.0,371.0 234.7,371.1 235.4,371.2 236.1,371.3 236.8,371.2 237.5,371.2 238.2,371.2 238.9,371.2 239.5,371.1 240.2,371.0 240.9,370.9 241.6,370.7 242.3,370.6 243.0,370.3 243.7,370.1 244.4,369.7 245.1,369.4 245.8,369.0 246.5,368.5 247.2,368.1 247.9,367.6 248.6,367.1 249.2,366.6 249.9,366.1 250.6,365.6 251.3,365.1 252.0,364.7 252.7,364.3 253.4,363.9 254.1,363.5 254.8,363.1 255.5,362.7 256.2,362.3 256.9,361.9 257.6,361.4 258.2,360.8 258.9,360.2 259.6,359.5 260.3,358.8 261.0,357.9 261.7,357.1 262.4,356.3 263.1,355.4 263.8,354.6 264.5,353.9 265.2,353.4 265.9,353.0 266.6,352.7 267.3,352.8 267.9,353.0 268.6,353.5 269.3,354.2 270.0,355.2 270.7,356.4 271.4,357.7 272.1,359.2 272.8,360.8 273.5,362.5 274.2,364.2 274.9,365.8 275.6,367.4 276.3,368.9 277.0,370.2 277.6,371.4 278.3,372.4 279.0,373.2 279.7,373.8 280.4,374.3 281.1,374.6 281.8,374.8 282.5,374.8 283.2,374.7 283.9,374.5 284.6,374.3 285.3,374.0 286.0,373.7 286.7,373.5 287.3,373.3 288.0,373.1 288.7,373.0 289.4,372.9 290.1,373.0 290.8,373.1 291.5,373.4 292.2,373.7 292.9,374.1 293.6,374.6 294.3,375.1 295.0,375.7 295.7,376.2 296.3,376.8 297.0,377.4 297.7,377.9 298.4,378.4 299.1,378.8 299.8,379.2 300.5,379.4 301.2,379.6 301.9,379.6 302.6,379.6 303.3,379.6 304.0,379.5 304.7,379.3 305.4,379.2 306.0,379.0 306.7,378.9 307.4,378.8 308.1,378.8 308.8,378.8 309.5,378.9 310.2,378.9 310.9,379.0 311.6,379.0 312.3,379.0 313.0,378.9 313.7,378.7 314.4,378.4 315.1,377.9 315.7,377.2 316.4,376.3 317.1,375.3 317.8,374.1 318.5,372.8 319.2,371.4 319.9,369.9 320.6,368.3 321.3,366.6 322.0,365.0 322.7,363.3 323.4,361.7 324.1,360.0 324.7,358.4 325.4,356.8 326.1,355.2 326.8,353.7 327.5,352.1 328.2,350.5 328.9,349.1 329.6,347.6 330.3,346.4 331.0,345.3 331.7,344.5 332.4,344.1 333.1,344.1 333.8,344.6 334.4,345.6 335.1,347.2 335.8,349.4 336.5,352.1 337.2,355.3 337.9,359.0 338.6,363.0 339.3,367.2 340.0,371.6 340.7,376.0 341.4,380.3 342.1,384.4 342.8,388.3 343.5,391.9 344.1,395.2 344.8,398.1 345.5,400.7 346.2,403.0 346.9,404.9 347.6,406.6 348.3,408.1" fill="none" stroke="#6e6e6e" stroke-width="0.95" stroke-opacity="1.0" stroke-linejoin="round"/>
<polyline points="196.6,364.8 197.1,365.4 197.6,364.1 198.1,365.0 198.6,363.9 199.1,363.7 199.6,364.6 200.2,363.9 200.7,364.4 201.2,363.7 201.7,364.8 202.2,364.0 202.7,363.4 203.2,364.0 203.7,364.2 204.2,363.4 204.7,363.9 205.2,364.6 205.7,364.0 206.2,363.5 206.7,363.2 207.3,363.7 207.8,362.7 208.3,361.9 208.8,363.0 209.3,362.7 209.8,363.9 210.3,363.1 210.8,362.6 211.3,362.4 211.8,363.1 212.3,362.4 212.8,362.4 213.3,362.5 213.9,362.5 214.4,362.4 214.9,362.2 215.4,362.6 215.9,362.6 216.4,360.9 216.9,362.6 217.4,361.3 217.9,361.6 218.4,360.5 218.9,360.7 219.4,360.4 219.9,360.2 220.4,360.3 221.0,360.0 221.5,359.0 222.0,359.3 222.5,359.5 223.0,359.4 223.5,358.8 224.0,358.8 224.5,358.8 225.0,358.4 225.5,358.4 226.0,359.8 226.5,359.0 227.0,359.4 227.5,359.2 228.1,360.3 228.6,360.7 229.1,360.0 229.6,360.6 230.1,360.2 230.6,361.6 231.1,361.4 231.6,360.8 232.1,361.9 232.6,361.7 233.1,361.8 233.6,361.9 234.1,361.6 234.7,361.7 235.2,362.3 235.7,362.0 236.2,361.7 236.7,363.0 237.2,362.0 237.7,361.8 238.2,361.7 238.7,362.3 239.2,362.4 239.7,362.1 240.2,362.3 240.7,361.1 241.2,361.6 241.8,361.4 242.3,361.5 242.8,361.6 243.3,360.3 243.8,362.4 244.3,360.4 244.8,360.8 245.3,360.7 245.8,360.5 246.3,359.9 246.8,358.2 247.3,358.7 247.8,359.2 248.4,358.1 248.9,357.7 249.4,356.8 249.9,358.0 250.4,357.4 250.9,356.5 251.4,356.5 251.9,356.3 252.4,355.5 252.9,355.7 253.4,355.6 253.9,355.5 254.4,355.6 254.9,354.8 255.5,354.4 256.0,354.5 256.5,353.8 257.0,353.2 257.5,353.9 258.0,352.9 258.5,352.7 259.0,352.5 259.5,351.3 260.0,351.6 260.5,351.0 261.0,350.2 261.5,349.8 262.0,348.7 262.6,347.5 263.1,347.8 263.6,347.0 264.1,347.3 264.6,346.5 265.1,345.8 265.6,345.8 266.1,346.2 266.6,346.0 267.1,345.7 267.6,345.8 268.1,345.8 268.6,346.3 269.2,347.1 269.7,347.5 270.2,348.5 270.7,348.7 271.2,349.5 271.7,350.5 272.2,352.2 272.7,354.2 273.2,355.3 273.7,355.6 274.2,356.6 274.7,358.9 275.2,359.9 275.7,360.2 276.3,362.4 276.8,362.9 277.3,364.4 277.8,364.8 278.3,365.7 278.8,366.1 279.3,366.0 279.8,366.8 280.3,366.9 280.8,367.8 281.3,367.2 281.8,367.0 282.3,368.0 282.9,368.2 283.4,368.2 283.9,367.9 284.4,366.6 284.9,366.7 285.4,366.6 285.9,366.6 286.4,365.4 286.9,366.2 287.4,366.1 287.9,365.4 288.4,365.8 288.9,366.2 289.4,365.7 290.0,366.1 290.5,366.2 291.0,366.0 291.5,366.1 292.0,366.0 292.5,367.0 293.0,366.5 293.5,366.7 294.0,367.7 294.5,367.4 295.0,368.3 295.5,369.0 296.0,369.0 296.5,369.4 297.1,370.1 297.6,370.4 298.1,369.7 298.6,370.1 299.1,371.6 299.6,371.4 300.1,370.4 300.6,370.9 301.1,371.6 301.6,371.2 302.1,371.9 302.6,371.7 303.1,371.8 303.7,370.9 304.2,371.6 304.7,372.1 305.2,370.7 305.7,371.5 306.2,371.3 306.7,371.0 307.2,370.6 307.7,370.1 308.2,370.2 308.7,370.9 309.2,371.0 309.7,371.1 310.2,371.0 310.8,371.0 311.3,370.5 311.8,370.1 312.3,370.7 312.8,370.8 313.3,370.5 313.8,369.6 314.3,369.8 314.8,369.0 315.3,369.3 315.8,368.2 316.3,368.0 316.8,367.5 317.4,366.6 317.9,366.3 318.4,364.2 318.9,362.7 319.4,363.0 319.9,362.1 320.4,361.0 320.9,359.3 321.4,358.2 321.9,356.8 322.4,354.9 322.9,354.1 323.4,353.3 323.9,351.7 324.5,351.6 325.0,348.9 325.5,348.2 326.0,347.8 326.5,345.8 327.0,344.5 327.5,343.2 328.0,342.4 328.5,342.3 329.0,340.7 329.5,339.8 330.0,338.4 330.5,338.1 331.0,337.1 331.6,336.0 332.1,335.9 332.6,336.0 333.1,336.5 333.6,336.3 334.1,337.2 334.6,338.8 335.1,338.7 335.6,340.1 336.1,342.9 336.6,344.7 337.1,346.9 337.6,349.7 338.2,352.2 338.7,355.6 339.2,358.3 339.7,362.0 340.2,364.3 340.7,367.7 341.2,371.3 341.7,374.1 342.2,377.7 342.7,380.2 343.2,382.7 343.7,385.5 344.2,387.6 344.7,389.3 345.3,391.5 345.8,393.4 346.3,395.2 346.8,397.0 347.3,398.7 347.8,399.7 348.3,401.3" fill="none" stroke="#1a1a1a" stroke-width="0.98" stroke-opacity="1.0" stroke-linejoin="round"/>
</g>
<line x1="227.00" y1="350.00" x2="227.00" y2="365.20" stroke="#5a93b8" stroke-width="0.75" stroke-opacity="1.0"/>
<polygon points="227.00,368.00 225.79,364.70 228.21,364.70" fill="#5a93b8" fill-opacity="1.0"/>
<line x1="235.00" y1="350.00" x2="277.11" y2="379.78" stroke="#5a93b8" stroke-width="0.75" stroke-opacity="1.0"/>
<polygon points="279.40,381.40 276.01,380.48 277.40,378.51" fill="#5a93b8" fill-opacity="1.0"/>
<line x1="267.70" y1="334.70" x2="244.90" y2="370.54" stroke="#80e080" stroke-width="0.75" stroke-opacity="1.0"/>
<polygon points="243.40,372.90 244.15,369.47 246.19,370.77" fill="#80e080" fill-opacity="1.0"/>
<line x1="274.10" y1="333.90" x2="298.76" y2="384.09" stroke="#80e080" stroke-width="0.75" stroke-opacity="1.0"/>
<polygon points="300.00,386.60 297.46,384.17 299.63,383.10" fill="#80e080" fill-opacity="1.0"/>
<line x1="321.90" y1="323.00" x2="271.50" y2="353.45" stroke="#2a7a2a" stroke-width="0.75" stroke-opacity="1.0"/>
<polygon points="269.10,354.90 271.30,352.16 272.55,354.23" fill="#2a7a2a" fill-opacity="1.0"/>
<line x1="330.90" y1="321.70" x2="334.43" y2="358.01" stroke="#2a7a2a" stroke-width="0.75" stroke-opacity="1.0"/>
<polygon points="334.70,360.80 333.18,357.63 335.59,357.40" fill="#2a7a2a" fill-opacity="1.0"/>
<line x1="294.40" y1="353.40" x2="266.45" y2="368.94" stroke="#3fa03f" stroke-width="0.75" stroke-opacity="1.0"/>
<polygon points="264.00,370.30 266.30,367.64 267.47,369.75" fill="#3fa03f" fill-opacity="1.0"/>
<line x1="303.00" y1="351.30" x2="315.77" y2="374.94" stroke="#3fa03f" stroke-width="0.75" stroke-opacity="1.0"/>
<polygon points="317.10,377.40 314.47,375.07 316.60,373.92" fill="#3fa03f" fill-opacity="1.0"/>
<text x="181.60" y="314.65" font-size="12.00" fill="#111" stroke="#111" stroke-width="0.2">(f)</text>
<text x="201.89" y="317.61" font-size="7.80" fill="#111" stroke="#111" stroke-width="0.2" textLength="18.93" lengthAdjust="spacing">Fe 2p</text>
<text x="208.70" y="346.82" font-size="7.63" fill="#111" stroke="#111" stroke-width="0.2">plasmons</text>
<text x="263.91" y="332.33" font-size="7.45" fill="#111" stroke="#111" stroke-width="0.2">Fe</text>
<text x="273.19" y="328.84" font-size="5.00" fill="#111" stroke="#111" stroke-width="0.15">3+</text>
<text x="278.64" y="334.45" font-size="5.00" fill="#111" stroke="#111" stroke-width="0.15">tet</text>
<text x="321.71" y="320.63" font-size="7.45" fill="#111" stroke="#111" stroke-width="0.2">Fe</text>
<text x="330.93" y="317.20" font-size="5.00" fill="#111" stroke="#111" stroke-width="0.15">2+</text>
<text x="336.31" y="322.75" font-size="5.00" fill="#111" stroke="#111" stroke-width="0.15">oct</text>
<text x="291.11" y="351.83" font-size="7.45" fill="#111" stroke="#111" stroke-width="0.2">Fe</text>
<text x="300.39" y="348.34" font-size="5.00" fill="#111" stroke="#111" stroke-width="0.15">3+</text>
<text x="305.71" y="353.95" font-size="5.00" fill="#111" stroke="#111" stroke-width="0.15">oct</text>
</svg></body></html>
